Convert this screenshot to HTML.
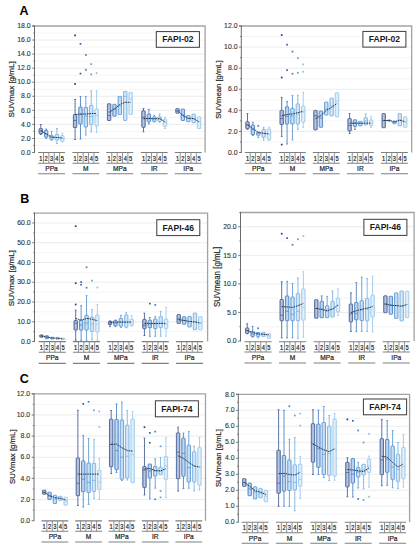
<!DOCTYPE html>
<html><head><meta charset="utf-8"><style>html,body{margin:0;padding:0;background:#fff;}body{width:419px;height:550px;overflow:hidden;font-family:"Liberation Sans",sans-serif;}svg{display:block;}</style></head><body>
<svg width="419" height="550" viewBox="0 0 419 550" font-family='"Liberation Sans", sans-serif'>
<defs><linearGradient id="g0" x1="0" x2="1" y1="0" y2="0"><stop offset="0" stop-color="#93a7cd"/><stop offset="0.5" stop-color="#bac8e2"/><stop offset="1" stop-color="#93a7cd"/></linearGradient><linearGradient id="g1" x1="0" x2="1" y1="0" y2="0"><stop offset="0" stop-color="#9fbfe6"/><stop offset="0.5" stop-color="#c4d8f0"/><stop offset="1" stop-color="#9fbfe6"/></linearGradient><linearGradient id="g2" x1="0" x2="1" y1="0" y2="0"><stop offset="0" stop-color="#afcdef"/><stop offset="0.5" stop-color="#cfe3f6"/><stop offset="1" stop-color="#afcdef"/></linearGradient><linearGradient id="g3" x1="0" x2="1" y1="0" y2="0"><stop offset="0" stop-color="#c0daf3"/><stop offset="0.5" stop-color="#d8e9f8"/><stop offset="1" stop-color="#c0daf3"/></linearGradient><linearGradient id="g4" x1="0" x2="1" y1="0" y2="0"><stop offset="0" stop-color="#d0e6f6"/><stop offset="0.5" stop-color="#e3f0fa"/><stop offset="1" stop-color="#d0e6f6"/></linearGradient></defs>
<rect width="419" height="550" fill="#fff"/>
<line x1="34.5" y1="145.47" x2="205.1" y2="145.47" stroke="#f3f3f3" stroke-width="0.8"/>
<line x1="34.5" y1="138.44" x2="205.1" y2="138.44" stroke="#e7e7e7" stroke-width="0.8"/>
<line x1="34.5" y1="131.42" x2="205.1" y2="131.42" stroke="#f3f3f3" stroke-width="0.8"/>
<line x1="34.5" y1="124.39" x2="205.1" y2="124.39" stroke="#e7e7e7" stroke-width="0.8"/>
<line x1="34.5" y1="117.36" x2="205.1" y2="117.36" stroke="#f3f3f3" stroke-width="0.8"/>
<line x1="34.5" y1="110.33" x2="205.1" y2="110.33" stroke="#e7e7e7" stroke-width="0.8"/>
<line x1="34.5" y1="103.31" x2="205.1" y2="103.31" stroke="#f3f3f3" stroke-width="0.8"/>
<line x1="34.5" y1="96.28" x2="205.1" y2="96.28" stroke="#e7e7e7" stroke-width="0.8"/>
<line x1="34.5" y1="89.25" x2="205.1" y2="89.25" stroke="#f3f3f3" stroke-width="0.8"/>
<line x1="34.5" y1="82.22" x2="205.1" y2="82.22" stroke="#e7e7e7" stroke-width="0.8"/>
<line x1="34.5" y1="75.19" x2="205.1" y2="75.19" stroke="#f3f3f3" stroke-width="0.8"/>
<line x1="34.5" y1="68.17" x2="205.1" y2="68.17" stroke="#e7e7e7" stroke-width="0.8"/>
<line x1="34.5" y1="61.14" x2="205.1" y2="61.14" stroke="#f3f3f3" stroke-width="0.8"/>
<line x1="34.5" y1="54.11" x2="205.1" y2="54.11" stroke="#e7e7e7" stroke-width="0.8"/>
<line x1="34.5" y1="47.08" x2="205.1" y2="47.08" stroke="#f3f3f3" stroke-width="0.8"/>
<line x1="34.5" y1="40.06" x2="205.1" y2="40.06" stroke="#e7e7e7" stroke-width="0.8"/>
<line x1="34.5" y1="33.03" x2="205.1" y2="33.03" stroke="#f3f3f3" stroke-width="0.8"/>
<path d="M32.2 26H205.1V152.5" fill="none" stroke="#a3a3a3" stroke-width="1.3"/>
<line x1="34.5" y1="25.4" x2="34.5" y2="153" stroke="#6a6a6a" stroke-width="1"/>
<path d="M32.2 152.5H34.5M33.3 145.47H34.5M32.2 138.44H34.5M33.3 131.42H34.5M32.2 124.39H34.5M33.3 117.36H34.5M32.2 110.33H34.5M33.3 103.31H34.5M32.2 96.28H34.5M33.3 89.25H34.5M32.2 82.22H34.5M33.3 75.19H34.5M32.2 68.17H34.5M33.3 61.14H34.5M32.2 54.11H34.5M33.3 47.08H34.5M32.2 40.06H34.5M33.3 33.03H34.5M32.2 26H34.5" stroke="#6a6a6a" stroke-width="0.9" fill="none"/>
<g font-size="6.9" fill="#333" stroke="#333" stroke-width="0.12" text-anchor="end"><text x="30.7" y="154.7">0.0</text><text x="30.7" y="140.64">2.0</text><text x="30.7" y="126.59">4.0</text><text x="30.7" y="112.53">6.0</text><text x="30.7" y="98.48">8.0</text><text x="30.7" y="84.42">10.0</text><text x="30.7" y="70.37">12.0</text><text x="30.7" y="56.31">14.0</text><text x="30.7" y="42.26">16.0</text><text x="30.7" y="28.2">18.0</text></g>
<text transform="translate(11.5 89.4) rotate(-90)" font-size="7.9" fill="#2a2a2a" stroke="#2a2a2a" stroke-width="0.2" text-anchor="middle" dy="2.7" textLength="56" lengthAdjust="spacingAndGlyphs">SUVmax [g/mL]</text>
<path d="M38.1 152.5H65M38.1 163.2H65M38.1 173.7H65" stroke="#808080" stroke-width="1.1" fill="none"/>
<path d="M43.48 152.5V163.2M48.86 152.5V163.2M54.24 152.5V163.2M59.62 152.5V163.2" stroke="#868686" stroke-width="0.9" fill="none"/>
<g font-size="7.2" fill="#1e1e1e" stroke="#1e1e1e" stroke-width="0.22" text-anchor="middle" transform="scale(0.8 1)"><text x="50.99" y="160.8">1</text><text x="57.71" y="160.8">2</text><text x="64.44" y="160.8">3</text><text x="71.16" y="160.8">4</text><text x="77.89" y="160.8">5</text></g>
<text x="51.55" y="171" font-size="6.6" fill="#222" stroke="#222" stroke-width="0.2" text-anchor="middle">PPa</text>
<path d="M72.4 152.5H99.3M72.4 163.2H99.3M72.4 173.7H99.3" stroke="#808080" stroke-width="1.1" fill="none"/>
<path d="M77.78 152.5V163.2M83.16 152.5V163.2M88.54 152.5V163.2M93.92 152.5V163.2" stroke="#868686" stroke-width="0.9" fill="none"/>
<g font-size="7.2" fill="#1e1e1e" stroke="#1e1e1e" stroke-width="0.22" text-anchor="middle" transform="scale(0.8 1)"><text x="93.86" y="160.8">1</text><text x="100.59" y="160.8">2</text><text x="107.31" y="160.8">3</text><text x="114.04" y="160.8">4</text><text x="120.76" y="160.8">5</text></g>
<text x="85.85" y="171" font-size="6.6" fill="#222" stroke="#222" stroke-width="0.2" text-anchor="middle">M</text>
<path d="M106.4 152.5H133.3M106.4 163.2H133.3M106.4 173.7H133.3" stroke="#808080" stroke-width="1.1" fill="none"/>
<path d="M111.78 152.5V163.2M117.16 152.5V163.2M122.54 152.5V163.2M127.92 152.5V163.2" stroke="#868686" stroke-width="0.9" fill="none"/>
<g font-size="7.2" fill="#1e1e1e" stroke="#1e1e1e" stroke-width="0.22" text-anchor="middle" transform="scale(0.8 1)"><text x="136.36" y="160.8">1</text><text x="143.09" y="160.8">2</text><text x="149.81" y="160.8">3</text><text x="156.54" y="160.8">4</text><text x="163.26" y="160.8">5</text></g>
<text x="119.85" y="171" font-size="6.6" fill="#222" stroke="#222" stroke-width="0.2" text-anchor="middle">MPa</text>
<path d="M140.8 152.5H167.7M140.8 163.2H167.7M140.8 173.7H167.7" stroke="#808080" stroke-width="1.1" fill="none"/>
<path d="M146.18 152.5V163.2M151.56 152.5V163.2M156.94 152.5V163.2M162.32 152.5V163.2" stroke="#868686" stroke-width="0.9" fill="none"/>
<g font-size="7.2" fill="#1e1e1e" stroke="#1e1e1e" stroke-width="0.22" text-anchor="middle" transform="scale(0.8 1)"><text x="179.36" y="160.8">1</text><text x="186.09" y="160.8">2</text><text x="192.81" y="160.8">3</text><text x="199.54" y="160.8">4</text><text x="206.26" y="160.8">5</text></g>
<text x="154.25" y="171" font-size="6.6" fill="#222" stroke="#222" stroke-width="0.2" text-anchor="middle">IR</text>
<path d="M174.8 152.5H201.7M174.8 163.2H201.7M174.8 173.7H201.7" stroke="#808080" stroke-width="1.1" fill="none"/>
<path d="M180.18 152.5V163.2M185.56 152.5V163.2M190.94 152.5V163.2M196.32 152.5V163.2" stroke="#868686" stroke-width="0.9" fill="none"/>
<g font-size="7.2" fill="#1e1e1e" stroke="#1e1e1e" stroke-width="0.22" text-anchor="middle" transform="scale(0.8 1)"><text x="221.86" y="160.8">1</text><text x="228.59" y="160.8">2</text><text x="235.31" y="160.8">3</text><text x="242.04" y="160.8">4</text><text x="248.76" y="160.8">5</text></g>
<text x="188.25" y="171" font-size="6.6" fill="#222" stroke="#222" stroke-width="0.2" text-anchor="middle">IPa</text>
<path d="M40.79 128.6V124.5M39.89 124.5H41.69" stroke="#4a6396" stroke-width="0.9" fill="none"/>
<path d="M40.79 133.7V134.5M39.89 134.5H41.69" stroke="#4a6396" stroke-width="0.9" fill="none"/>
<rect x="39.09" y="128.6" width="3.4" height="5.1" rx="0.5" fill="url(#g0)" stroke="#4a6396" stroke-width="0.9"/>
<line x1="39.09" y1="131" x2="42.49" y2="131" stroke="#4a6396" stroke-width="0.8"/>
<path d="M46.17 130.3V129.1M45.27 129.1H47.07" stroke="#4f86c6" stroke-width="0.9" fill="none"/>
<path d="M46.17 137.2V138.3M45.27 138.3H47.07" stroke="#4f86c6" stroke-width="0.9" fill="none"/>
<rect x="44.47" y="130.3" width="3.4" height="6.9" rx="0.5" fill="url(#g1)" stroke="#4f86c6" stroke-width="0.9"/>
<line x1="44.47" y1="134" x2="47.87" y2="134" stroke="#4f86c6" stroke-width="0.8"/>
<path d="M51.55 135.6V131.4M50.65 131.4H52.45" stroke="#5e9cd7" stroke-width="0.9" fill="none"/>
<path d="M51.55 139.4V140.2M50.65 140.2H52.45" stroke="#5e9cd7" stroke-width="0.9" fill="none"/>
<rect x="49.85" y="135.6" width="3.4" height="3.8" rx="0.5" fill="url(#g2)" stroke="#5e9cd7" stroke-width="0.9"/>
<line x1="49.85" y1="137.5" x2="53.25" y2="137.5" stroke="#5e9cd7" stroke-width="0.8"/>
<path d="M56.93 134.5V128.6M56.03 128.6H57.83" stroke="#7cb3e2" stroke-width="0.9" fill="none"/>
<path d="M56.93 139.8V143.6M56.03 143.6H57.83" stroke="#7cb3e2" stroke-width="0.9" fill="none"/>
<rect x="55.23" y="134.5" width="3.4" height="5.3" rx="0.5" fill="url(#g3)" stroke="#7cb3e2" stroke-width="0.9"/>
<line x1="55.23" y1="137.5" x2="58.63" y2="137.5" stroke="#7cb3e2" stroke-width="0.8"/>
<path d="M62.31 135.6V133.3M61.41 133.3H63.21" stroke="#9cc9ec" stroke-width="0.9" fill="none"/>
<path d="M62.31 141.4V142.1M61.41 142.1H63.21" stroke="#9cc9ec" stroke-width="0.9" fill="none"/>
<rect x="60.61" y="135.6" width="3.4" height="5.8" rx="0.5" fill="url(#g4)" stroke="#9cc9ec" stroke-width="0.9"/>
<line x1="60.61" y1="138.5" x2="64.01" y2="138.5" stroke="#9cc9ec" stroke-width="0.8"/>
<polyline points="40.79,130.5 46.17,134 51.55,137 56.93,137.5 62.31,138" fill="none" stroke="#202838" stroke-width="0.95" stroke-dasharray="1.6 0.8"/>
<path d="M75.09 114.5V99.5M74.19 99.5H75.99" stroke="#4a6396" stroke-width="0.9" fill="none"/>
<path d="M75.09 127.5V139.5M74.19 139.5H75.99" stroke="#4a6396" stroke-width="0.9" fill="none"/>
<rect x="73.39" y="114.5" width="3.4" height="13" rx="0.5" fill="url(#g0)" stroke="#4a6396" stroke-width="0.9"/>
<line x1="73.39" y1="120.5" x2="76.79" y2="120.5" stroke="#4a6396" stroke-width="0.8"/>
<path d="M80.47 107V96.5M79.57 96.5H81.37" stroke="#4f86c6" stroke-width="0.9" fill="none"/>
<path d="M80.47 124V139M79.57 139H81.37" stroke="#4f86c6" stroke-width="0.9" fill="none"/>
<rect x="78.77" y="107" width="3.4" height="17" rx="0.5" fill="url(#g1)" stroke="#4f86c6" stroke-width="0.9"/>
<line x1="78.77" y1="114.5" x2="82.17" y2="114.5" stroke="#4f86c6" stroke-width="0.8"/>
<path d="M85.85 107.5V96.5M84.95 96.5H86.75" stroke="#5e9cd7" stroke-width="0.9" fill="none"/>
<path d="M85.85 127V135M84.95 135H86.75" stroke="#5e9cd7" stroke-width="0.9" fill="none"/>
<rect x="84.15" y="107.5" width="3.4" height="19.5" rx="0.5" fill="url(#g2)" stroke="#5e9cd7" stroke-width="0.9"/>
<line x1="84.15" y1="116" x2="87.55" y2="116" stroke="#5e9cd7" stroke-width="0.8"/>
<path d="M91.23 105.5V90.8M90.33 90.8H92.13" stroke="#7cb3e2" stroke-width="0.9" fill="none"/>
<path d="M91.23 124.5V132M90.33 132H92.13" stroke="#7cb3e2" stroke-width="0.9" fill="none"/>
<rect x="89.53" y="105.5" width="3.4" height="19" rx="0.5" fill="url(#g3)" stroke="#7cb3e2" stroke-width="0.9"/>
<line x1="89.53" y1="116.5" x2="92.93" y2="116.5" stroke="#7cb3e2" stroke-width="0.8"/>
<path d="M96.61 109V90.8M95.71 90.8H97.51" stroke="#9cc9ec" stroke-width="0.9" fill="none"/>
<path d="M96.61 126V132.5M95.71 132.5H97.51" stroke="#9cc9ec" stroke-width="0.9" fill="none"/>
<rect x="94.91" y="109" width="3.4" height="17" rx="0.5" fill="url(#g4)" stroke="#9cc9ec" stroke-width="0.9"/>
<line x1="94.91" y1="115.5" x2="98.31" y2="115.5" stroke="#9cc9ec" stroke-width="0.8"/>
<polyline points="75.09,114.5 80.47,114 85.85,114 91.23,113.5 96.61,113.5" fill="none" stroke="#202838" stroke-width="0.95" stroke-dasharray="1.6 0.8"/>
<rect x="107.39" y="103.8" width="3.4" height="16.7" rx="0.5" fill="url(#g0)" stroke="#4a6396" stroke-width="0.9"/>
<line x1="107.39" y1="115.5" x2="110.79" y2="115.5" stroke="#4a6396" stroke-width="0.8"/>
<rect x="112.77" y="104.4" width="3.4" height="11.8" rx="0.5" fill="url(#g1)" stroke="#4f86c6" stroke-width="0.9"/>
<line x1="112.77" y1="109" x2="116.17" y2="109" stroke="#4f86c6" stroke-width="0.8"/>
<rect x="118.15" y="96.4" width="3.4" height="18.1" rx="0.5" fill="url(#g2)" stroke="#5e9cd7" stroke-width="0.9"/>
<line x1="118.15" y1="106" x2="121.55" y2="106" stroke="#5e9cd7" stroke-width="0.8"/>
<rect x="123.53" y="91.4" width="3.4" height="29.1" rx="0.5" fill="url(#g3)" stroke="#7cb3e2" stroke-width="0.9"/>
<line x1="123.53" y1="96.4" x2="126.93" y2="96.4" stroke="#7cb3e2" stroke-width="0.8"/>
<rect x="128.91" y="92.3" width="3.4" height="22.2" rx="0.5" fill="url(#g4)" stroke="#9cc9ec" stroke-width="0.9"/>
<line x1="128.91" y1="99" x2="132.31" y2="99" stroke="#9cc9ec" stroke-width="0.8"/>
<polyline points="109.09,112.3 114.47,109 119.85,104.5 125.23,102.3 130.61,102.3" fill="none" stroke="#202838" stroke-width="0.95" stroke-dasharray="1.6 0.8"/>
<path d="M143.49 110.9V108.6M142.59 108.6H144.39" stroke="#4a6396" stroke-width="0.9" fill="none"/>
<path d="M143.49 127.3V131.8M142.59 131.8H144.39" stroke="#4a6396" stroke-width="0.9" fill="none"/>
<rect x="141.79" y="110.9" width="3.4" height="16.4" rx="0.5" fill="url(#g0)" stroke="#4a6396" stroke-width="0.9"/>
<line x1="141.79" y1="117.3" x2="145.19" y2="117.3" stroke="#4a6396" stroke-width="0.8"/>
<path d="M148.87 114.1V109.4M147.97 109.4H149.77" stroke="#4f86c6" stroke-width="0.9" fill="none"/>
<path d="M148.87 121.8V123.9M147.97 123.9H149.77" stroke="#4f86c6" stroke-width="0.9" fill="none"/>
<rect x="147.17" y="114.1" width="3.4" height="7.7" rx="0.5" fill="url(#g1)" stroke="#4f86c6" stroke-width="0.9"/>
<line x1="147.17" y1="118" x2="150.57" y2="118" stroke="#4f86c6" stroke-width="0.8"/>
<path d="M154.25 116.8V115.5M153.35 115.5H155.15" stroke="#5e9cd7" stroke-width="0.9" fill="none"/>
<path d="M154.25 121.4V122M153.35 122H155.15" stroke="#5e9cd7" stroke-width="0.9" fill="none"/>
<rect x="152.55" y="116.8" width="3.4" height="4.6" rx="0.5" fill="url(#g2)" stroke="#5e9cd7" stroke-width="0.9"/>
<line x1="152.55" y1="119" x2="155.95" y2="119" stroke="#5e9cd7" stroke-width="0.8"/>
<path d="M159.63 116.8V114.1M158.73 114.1H160.53" stroke="#7cb3e2" stroke-width="0.9" fill="none"/>
<path d="M159.63 121.4V122.3M158.73 122.3H160.53" stroke="#7cb3e2" stroke-width="0.9" fill="none"/>
<rect x="157.93" y="116.8" width="3.4" height="4.6" rx="0.5" fill="url(#g3)" stroke="#7cb3e2" stroke-width="0.9"/>
<line x1="157.93" y1="119" x2="161.33" y2="119" stroke="#7cb3e2" stroke-width="0.8"/>
<path d="M165.01 119.1V117.3M164.11 117.3H165.91" stroke="#9cc9ec" stroke-width="0.9" fill="none"/>
<path d="M165.01 126.4V128.5M164.11 128.5H165.91" stroke="#9cc9ec" stroke-width="0.9" fill="none"/>
<rect x="163.31" y="119.1" width="3.4" height="7.3" rx="0.5" fill="url(#g4)" stroke="#9cc9ec" stroke-width="0.9"/>
<line x1="163.31" y1="122.5" x2="166.71" y2="122.5" stroke="#9cc9ec" stroke-width="0.8"/>
<polyline points="143.49,118.6 148.87,118.6 154.25,118.6 159.63,118.6 165.01,121.8" fill="none" stroke="#202838" stroke-width="0.95" stroke-dasharray="1.6 0.8"/>
<rect x="175.79" y="108.6" width="3.4" height="4.6" rx="0.5" fill="url(#g0)" stroke="#4a6396" stroke-width="0.9"/>
<line x1="175.79" y1="110.9" x2="179.19" y2="110.9" stroke="#4a6396" stroke-width="0.8"/>
<rect x="181.17" y="109.1" width="3.4" height="11.4" rx="0.5" fill="url(#g1)" stroke="#4f86c6" stroke-width="0.9"/>
<line x1="181.17" y1="115" x2="184.57" y2="115" stroke="#4f86c6" stroke-width="0.8"/>
<rect x="186.55" y="115.5" width="3.4" height="6.3" rx="0.5" fill="url(#g2)" stroke="#5e9cd7" stroke-width="0.9"/>
<line x1="186.55" y1="118.5" x2="189.95" y2="118.5" stroke="#5e9cd7" stroke-width="0.8"/>
<rect x="191.93" y="114.1" width="3.4" height="8.6" rx="0.5" fill="url(#g3)" stroke="#7cb3e2" stroke-width="0.9"/>
<line x1="191.93" y1="118.5" x2="195.33" y2="118.5" stroke="#7cb3e2" stroke-width="0.8"/>
<rect x="197.31" y="116.8" width="3.4" height="11.8" rx="0.5" fill="url(#g4)" stroke="#9cc9ec" stroke-width="0.9"/>
<line x1="197.31" y1="122" x2="200.71" y2="122" stroke="#9cc9ec" stroke-width="0.8"/>
<polyline points="177.49,110.9 182.87,115.5 188.25,118.2 193.63,118.6 199.01,121.8" fill="none" stroke="#202838" stroke-width="0.95" stroke-dasharray="1.6 0.8"/>
<rect x="74.24" y="34.55" width="1.7" height="1.7" fill="#1f3d7a"/>
<rect x="74.24" y="83.05" width="1.7" height="1.7" fill="#1f3d7a"/>
<rect x="79.62" y="42.95" width="1.7" height="1.7" fill="#2b5fb0"/>
<rect x="79.62" y="72.75" width="1.7" height="1.7" fill="#2b5fb0"/>
<rect x="85" y="54.05" width="1.7" height="1.7" fill="#3b7fcc"/>
<rect x="85" y="68.95" width="1.7" height="1.7" fill="#3b7fcc"/>
<rect x="90.38" y="63.25" width="1.7" height="1.7" fill="#5a9fdc"/>
<rect x="90.38" y="73.55" width="1.7" height="1.7" fill="#5a9fdc"/>
<rect x="95.76" y="72.25" width="1.7" height="1.7" fill="#86bfe6"/>
<rect x="156.3" y="31.6" width="43.1" height="15.7" fill="#fff" stroke="#3a3a3a" stroke-width="1"/>
<text x="177.85" y="42.35" font-size="9.4" font-weight="bold" fill="#1a1a1a" text-anchor="middle" textLength="31.4" lengthAdjust="spacingAndGlyphs">FAPI-02</text>
<line x1="241.3" y1="141.96" x2="411.7" y2="141.96" stroke="#f3f3f3" stroke-width="0.8"/>
<line x1="241.3" y1="131.42" x2="411.7" y2="131.42" stroke="#e7e7e7" stroke-width="0.8"/>
<line x1="241.3" y1="120.88" x2="411.7" y2="120.88" stroke="#f3f3f3" stroke-width="0.8"/>
<line x1="241.3" y1="110.33" x2="411.7" y2="110.33" stroke="#e7e7e7" stroke-width="0.8"/>
<line x1="241.3" y1="99.79" x2="411.7" y2="99.79" stroke="#f3f3f3" stroke-width="0.8"/>
<line x1="241.3" y1="89.25" x2="411.7" y2="89.25" stroke="#e7e7e7" stroke-width="0.8"/>
<line x1="241.3" y1="78.71" x2="411.7" y2="78.71" stroke="#f3f3f3" stroke-width="0.8"/>
<line x1="241.3" y1="68.17" x2="411.7" y2="68.17" stroke="#e7e7e7" stroke-width="0.8"/>
<line x1="241.3" y1="57.62" x2="411.7" y2="57.62" stroke="#f3f3f3" stroke-width="0.8"/>
<line x1="241.3" y1="47.08" x2="411.7" y2="47.08" stroke="#e7e7e7" stroke-width="0.8"/>
<line x1="241.3" y1="36.54" x2="411.7" y2="36.54" stroke="#f3f3f3" stroke-width="0.8"/>
<path d="M239 26H411.7V152.5" fill="none" stroke="#a3a3a3" stroke-width="1.3"/>
<line x1="241.3" y1="25.4" x2="241.3" y2="153" stroke="#6a6a6a" stroke-width="1"/>
<path d="M239 152.5H241.3M240.1 141.96H241.3M239 131.42H241.3M240.1 120.88H241.3M239 110.33H241.3M240.1 99.79H241.3M239 89.25H241.3M240.1 78.71H241.3M239 68.17H241.3M240.1 57.62H241.3M239 47.08H241.3M240.1 36.54H241.3M239 26H241.3" stroke="#6a6a6a" stroke-width="0.9" fill="none"/>
<g font-size="6.9" fill="#333" stroke="#333" stroke-width="0.12" text-anchor="end"><text x="237.5" y="154.7">0.0</text><text x="237.5" y="133.62">2.0</text><text x="237.5" y="112.53">4.0</text><text x="237.5" y="91.45">6.0</text><text x="237.5" y="70.37">8.0</text><text x="237.5" y="49.28">10.0</text><text x="237.5" y="28.2">12.0</text></g>
<text transform="translate(217.9 89.5) rotate(-90)" font-size="7.9" fill="#2a2a2a" stroke="#2a2a2a" stroke-width="0.2" text-anchor="middle" dy="2.7" textLength="58.5" lengthAdjust="spacingAndGlyphs">SUVmean [g/mL]</text>
<path d="M244.8 152.5H271.7M244.8 163.2H271.7M244.8 173.8H271.7" stroke="#808080" stroke-width="1.1" fill="none"/>
<path d="M250.18 152.5V163.2M255.56 152.5V163.2M260.94 152.5V163.2M266.32 152.5V163.2" stroke="#868686" stroke-width="0.9" fill="none"/>
<g font-size="7.2" fill="#1e1e1e" stroke="#1e1e1e" stroke-width="0.22" text-anchor="middle" transform="scale(0.8 1)"><text x="309.36" y="160.8">1</text><text x="316.09" y="160.8">2</text><text x="322.81" y="160.8">3</text><text x="329.54" y="160.8">4</text><text x="336.26" y="160.8">5</text></g>
<text x="258.25" y="171" font-size="6.6" fill="#222" stroke="#222" stroke-width="0.2" text-anchor="middle">PPa</text>
<path d="M279 152.5H305.9M279 163.2H305.9M279 173.8H305.9" stroke="#808080" stroke-width="1.1" fill="none"/>
<path d="M284.38 152.5V163.2M289.76 152.5V163.2M295.14 152.5V163.2M300.52 152.5V163.2" stroke="#868686" stroke-width="0.9" fill="none"/>
<g font-size="7.2" fill="#1e1e1e" stroke="#1e1e1e" stroke-width="0.22" text-anchor="middle" transform="scale(0.8 1)"><text x="352.11" y="160.8">1</text><text x="358.84" y="160.8">2</text><text x="365.56" y="160.8">3</text><text x="372.29" y="160.8">4</text><text x="379.01" y="160.8">5</text></g>
<text x="292.45" y="171" font-size="6.6" fill="#222" stroke="#222" stroke-width="0.2" text-anchor="middle">M</text>
<path d="M312.8 152.5H339.7M312.8 163.2H339.7M312.8 173.8H339.7" stroke="#808080" stroke-width="1.1" fill="none"/>
<path d="M318.18 152.5V163.2M323.56 152.5V163.2M328.94 152.5V163.2M334.32 152.5V163.2" stroke="#868686" stroke-width="0.9" fill="none"/>
<g font-size="7.2" fill="#1e1e1e" stroke="#1e1e1e" stroke-width="0.22" text-anchor="middle" transform="scale(0.8 1)"><text x="394.36" y="160.8">1</text><text x="401.09" y="160.8">2</text><text x="407.81" y="160.8">3</text><text x="414.54" y="160.8">4</text><text x="421.26" y="160.8">5</text></g>
<text x="326.25" y="171" font-size="6.6" fill="#222" stroke="#222" stroke-width="0.2" text-anchor="middle">MPa</text>
<path d="M346.9 152.5H373.8M346.9 163.2H373.8M346.9 173.8H373.8" stroke="#808080" stroke-width="1.1" fill="none"/>
<path d="M352.28 152.5V163.2M357.66 152.5V163.2M363.04 152.5V163.2M368.42 152.5V163.2" stroke="#868686" stroke-width="0.9" fill="none"/>
<g font-size="7.2" fill="#1e1e1e" stroke="#1e1e1e" stroke-width="0.22" text-anchor="middle" transform="scale(0.8 1)"><text x="436.99" y="160.8">1</text><text x="443.71" y="160.8">2</text><text x="450.44" y="160.8">3</text><text x="457.16" y="160.8">4</text><text x="463.89" y="160.8">5</text></g>
<text x="360.35" y="171" font-size="6.6" fill="#222" stroke="#222" stroke-width="0.2" text-anchor="middle">IR</text>
<path d="M381 152.5H407.9M381 163.2H407.9M381 173.8H407.9" stroke="#808080" stroke-width="1.1" fill="none"/>
<path d="M386.38 152.5V163.2M391.76 152.5V163.2M397.14 152.5V163.2M402.52 152.5V163.2" stroke="#868686" stroke-width="0.9" fill="none"/>
<g font-size="7.2" fill="#1e1e1e" stroke="#1e1e1e" stroke-width="0.22" text-anchor="middle" transform="scale(0.8 1)"><text x="479.61" y="160.8">1</text><text x="486.34" y="160.8">2</text><text x="493.06" y="160.8">3</text><text x="499.79" y="160.8">4</text><text x="506.51" y="160.8">5</text></g>
<text x="394.45" y="171" font-size="6.6" fill="#222" stroke="#222" stroke-width="0.2" text-anchor="middle">IPa</text>
<path d="M247.49 121.8V113.6M246.59 113.6H248.39" stroke="#4a6396" stroke-width="0.9" fill="none"/>
<path d="M247.49 128.7V129.2M246.59 129.2H248.39" stroke="#4a6396" stroke-width="0.9" fill="none"/>
<rect x="245.79" y="121.8" width="3.4" height="6.9" rx="0.5" fill="url(#g0)" stroke="#4a6396" stroke-width="0.9"/>
<line x1="245.79" y1="125" x2="249.19" y2="125" stroke="#4a6396" stroke-width="0.8"/>
<path d="M252.87 125V122.3M251.97 122.3H253.77" stroke="#4f86c6" stroke-width="0.9" fill="none"/>
<path d="M252.87 134.5V135.4M251.97 135.4H253.77" stroke="#4f86c6" stroke-width="0.9" fill="none"/>
<rect x="251.17" y="125" width="3.4" height="9.5" rx="0.5" fill="url(#g1)" stroke="#4f86c6" stroke-width="0.9"/>
<line x1="251.17" y1="129.5" x2="254.57" y2="129.5" stroke="#4f86c6" stroke-width="0.8"/>
<path d="M258.25 135.3V137.6M257.35 137.6H259.15" stroke="#5e9cd7" stroke-width="0.9" fill="none"/>
<rect x="256.55" y="132" width="3.4" height="3.3" rx="0.5" fill="url(#g2)" stroke="#5e9cd7" stroke-width="0.9"/>
<line x1="256.55" y1="133.5" x2="259.95" y2="133.5" stroke="#5e9cd7" stroke-width="0.8"/>
<path d="M263.63 129.5V127.3M262.73 127.3H264.53" stroke="#7cb3e2" stroke-width="0.9" fill="none"/>
<path d="M263.63 137.3V140.2M262.73 140.2H264.53" stroke="#7cb3e2" stroke-width="0.9" fill="none"/>
<rect x="261.93" y="129.5" width="3.4" height="7.8" rx="0.5" fill="url(#g3)" stroke="#7cb3e2" stroke-width="0.9"/>
<line x1="261.93" y1="133.5" x2="265.33" y2="133.5" stroke="#7cb3e2" stroke-width="0.8"/>
<path d="M269.01 129.1V127.1M268.11 127.1H269.91" stroke="#9cc9ec" stroke-width="0.9" fill="none"/>
<path d="M269.01 139.8V140.3M268.11 140.3H269.91" stroke="#9cc9ec" stroke-width="0.9" fill="none"/>
<rect x="267.31" y="129.1" width="3.4" height="10.7" rx="0.5" fill="url(#g4)" stroke="#9cc9ec" stroke-width="0.9"/>
<line x1="267.31" y1="134" x2="270.71" y2="134" stroke="#9cc9ec" stroke-width="0.8"/>
<polyline points="247.49,124.6 252.87,128.7 258.25,132.4 263.63,133.2 269.01,134" fill="none" stroke="#202838" stroke-width="0.95" stroke-dasharray="1.6 0.8"/>
<path d="M281.69 110.4V97.4M280.79 97.4H282.59" stroke="#4a6396" stroke-width="0.9" fill="none"/>
<path d="M281.69 124.6V136.4M280.79 136.4H282.59" stroke="#4a6396" stroke-width="0.9" fill="none"/>
<rect x="279.99" y="110.4" width="3.4" height="14.2" rx="0.5" fill="url(#g0)" stroke="#4a6396" stroke-width="0.9"/>
<line x1="279.99" y1="118.6" x2="283.39" y2="118.6" stroke="#4a6396" stroke-width="0.8"/>
<path d="M287.07 106.8V101.5M286.17 101.5H287.97" stroke="#4f86c6" stroke-width="0.9" fill="none"/>
<path d="M287.07 124V144M286.17 144H287.97" stroke="#4f86c6" stroke-width="0.9" fill="none"/>
<rect x="285.37" y="106.8" width="3.4" height="17.2" rx="0.5" fill="url(#g1)" stroke="#4f86c6" stroke-width="0.9"/>
<line x1="285.37" y1="116.3" x2="288.77" y2="116.3" stroke="#4f86c6" stroke-width="0.8"/>
<path d="M292.45 108.4V95.4M291.55 95.4H293.35" stroke="#5e9cd7" stroke-width="0.9" fill="none"/>
<path d="M292.45 124V139.9M291.55 139.9H293.35" stroke="#5e9cd7" stroke-width="0.9" fill="none"/>
<rect x="290.75" y="108.4" width="3.4" height="15.6" rx="0.5" fill="url(#g2)" stroke="#5e9cd7" stroke-width="0.9"/>
<line x1="290.75" y1="116" x2="294.15" y2="116" stroke="#5e9cd7" stroke-width="0.8"/>
<path d="M297.83 103.9V95.4M296.93 95.4H298.73" stroke="#7cb3e2" stroke-width="0.9" fill="none"/>
<path d="M297.83 124V129.3M296.93 129.3H298.73" stroke="#7cb3e2" stroke-width="0.9" fill="none"/>
<rect x="296.13" y="103.9" width="3.4" height="20.1" rx="0.5" fill="url(#g3)" stroke="#7cb3e2" stroke-width="0.9"/>
<line x1="296.13" y1="114" x2="299.53" y2="114" stroke="#7cb3e2" stroke-width="0.8"/>
<path d="M303.21 106V92.3M302.31 92.3H304.11" stroke="#9cc9ec" stroke-width="0.9" fill="none"/>
<path d="M303.21 122.2V127.3M302.31 127.3H304.11" stroke="#9cc9ec" stroke-width="0.9" fill="none"/>
<rect x="301.51" y="106" width="3.4" height="16.2" rx="0.5" fill="url(#g4)" stroke="#9cc9ec" stroke-width="0.9"/>
<line x1="301.51" y1="112" x2="304.91" y2="112" stroke="#9cc9ec" stroke-width="0.8"/>
<polyline points="281.69,115.9 287.07,114.5 292.45,113.9 297.83,112.7 303.21,111.2" fill="none" stroke="#202838" stroke-width="0.95" stroke-dasharray="1.6 0.8"/>
<rect x="313.79" y="110.4" width="3.4" height="19.5" rx="0.5" fill="url(#g0)" stroke="#4a6396" stroke-width="0.9"/>
<line x1="313.79" y1="115.7" x2="317.19" y2="115.7" stroke="#4a6396" stroke-width="0.8"/>
<rect x="319.17" y="111" width="3.4" height="16.3" rx="0.5" fill="url(#g1)" stroke="#4f86c6" stroke-width="0.9"/>
<line x1="319.17" y1="118" x2="322.57" y2="118" stroke="#4f86c6" stroke-width="0.8"/>
<rect x="324.55" y="102.1" width="3.4" height="13" rx="0.5" fill="url(#g2)" stroke="#5e9cd7" stroke-width="0.9"/>
<line x1="324.55" y1="109" x2="327.95" y2="109" stroke="#5e9cd7" stroke-width="0.8"/>
<rect x="329.93" y="98.2" width="3.4" height="17.7" rx="0.5" fill="url(#g3)" stroke="#7cb3e2" stroke-width="0.9"/>
<line x1="329.93" y1="106" x2="333.33" y2="106" stroke="#7cb3e2" stroke-width="0.8"/>
<rect x="335.31" y="92.7" width="3.4" height="24.2" rx="0.5" fill="url(#g4)" stroke="#9cc9ec" stroke-width="0.9"/>
<line x1="335.31" y1="101" x2="338.71" y2="101" stroke="#9cc9ec" stroke-width="0.8"/>
<polyline points="315.49,118.6 320.87,115.5 326.25,110.4 331.63,107.4 337.01,103.3" fill="none" stroke="#202838" stroke-width="0.95" stroke-dasharray="1.6 0.8"/>
<path d="M349.59 118.6V113.6M348.69 113.6H350.49" stroke="#4a6396" stroke-width="0.9" fill="none"/>
<path d="M349.59 130.9V133.5M348.69 133.5H350.49" stroke="#4a6396" stroke-width="0.9" fill="none"/>
<rect x="347.89" y="118.6" width="3.4" height="12.3" rx="0.5" fill="url(#g0)" stroke="#4a6396" stroke-width="0.9"/>
<line x1="347.89" y1="125.5" x2="351.29" y2="125.5" stroke="#4a6396" stroke-width="0.8"/>
<path d="M354.97 126.4V129.5M354.07 129.5H355.87" stroke="#4f86c6" stroke-width="0.9" fill="none"/>
<rect x="353.27" y="119.8" width="3.4" height="6.6" rx="0.5" fill="url(#g1)" stroke="#4f86c6" stroke-width="0.9"/>
<line x1="353.27" y1="123" x2="356.67" y2="123" stroke="#4f86c6" stroke-width="0.8"/>
<rect x="358.65" y="121.4" width="3.4" height="4.5" rx="0.5" fill="url(#g2)" stroke="#5e9cd7" stroke-width="0.9"/>
<line x1="358.65" y1="123.5" x2="362.05" y2="123.5" stroke="#5e9cd7" stroke-width="0.8"/>
<path d="M365.73 117.7V114.1M364.83 114.1H366.63" stroke="#7cb3e2" stroke-width="0.9" fill="none"/>
<rect x="364.03" y="117.7" width="3.4" height="7.3" rx="0.5" fill="url(#g3)" stroke="#7cb3e2" stroke-width="0.9"/>
<line x1="364.03" y1="121" x2="367.43" y2="121" stroke="#7cb3e2" stroke-width="0.8"/>
<path d="M371.11 120V116.4M370.21 116.4H372.01" stroke="#9cc9ec" stroke-width="0.9" fill="none"/>
<path d="M371.11 125.5V127.3M370.21 127.3H372.01" stroke="#9cc9ec" stroke-width="0.9" fill="none"/>
<rect x="369.41" y="120" width="3.4" height="5.5" rx="0.5" fill="url(#g4)" stroke="#9cc9ec" stroke-width="0.9"/>
<line x1="369.41" y1="123" x2="372.81" y2="123" stroke="#9cc9ec" stroke-width="0.8"/>
<polyline points="349.59,123.2 354.97,123.2 360.35,123.2 365.73,123.2 371.11,123.2" fill="none" stroke="#202838" stroke-width="0.95" stroke-dasharray="1.6 0.8"/>
<rect x="381.99" y="113.6" width="3.4" height="14.1" rx="0.5" fill="url(#g0)" stroke="#4a6396" stroke-width="0.9"/>
<line x1="381.99" y1="120.5" x2="385.39" y2="120.5" stroke="#4a6396" stroke-width="0.8"/>
<rect x="387.37" y="120" width="3.4" height="1" rx="0.5" fill="url(#g1)" stroke="#4f86c6" stroke-width="0.9"/>
<line x1="387.37" y1="120.5" x2="390.77" y2="120.5" stroke="#4f86c6" stroke-width="0.8"/>
<rect x="392.75" y="121.1" width="3.4" height="2.7" rx="0.5" fill="url(#g2)" stroke="#5e9cd7" stroke-width="0.9"/>
<line x1="392.75" y1="122.5" x2="396.15" y2="122.5" stroke="#5e9cd7" stroke-width="0.8"/>
<rect x="398.13" y="113.6" width="3.4" height="12.3" rx="0.5" fill="url(#g3)" stroke="#7cb3e2" stroke-width="0.9"/>
<line x1="398.13" y1="120" x2="401.53" y2="120" stroke="#7cb3e2" stroke-width="0.8"/>
<rect x="403.51" y="116.8" width="3.4" height="10.5" rx="0.5" fill="url(#g4)" stroke="#9cc9ec" stroke-width="0.9"/>
<line x1="403.51" y1="122" x2="406.91" y2="122" stroke="#9cc9ec" stroke-width="0.8"/>
<polyline points="383.69,120.5 389.07,120.5 394.45,121.8 399.83,120.2 405.21,121.8" fill="none" stroke="#202838" stroke-width="0.95" stroke-dasharray="1.6 0.8"/>
<rect x="257.4" y="125.05" width="1.7" height="1.7" fill="#3b7fcc"/>
<rect x="280.84" y="34.25" width="1.7" height="1.7" fill="#1f3d7a"/>
<rect x="280.84" y="76.65" width="1.7" height="1.7" fill="#1f3d7a"/>
<rect x="280.84" y="143.75" width="1.7" height="1.7" fill="#1f3d7a"/>
<rect x="286.22" y="43.85" width="1.7" height="1.7" fill="#2b5fb0"/>
<rect x="286.22" y="69.35" width="1.7" height="1.7" fill="#2b5fb0"/>
<rect x="291.6" y="50.75" width="1.7" height="1.7" fill="#3b7fcc"/>
<rect x="291.6" y="72.85" width="1.7" height="1.7" fill="#3b7fcc"/>
<rect x="296.98" y="57.35" width="1.7" height="1.7" fill="#5a9fdc"/>
<rect x="296.98" y="71.95" width="1.7" height="1.7" fill="#5a9fdc"/>
<rect x="302.36" y="63.55" width="1.7" height="1.7" fill="#86bfe6"/>
<rect x="302.36" y="70.95" width="1.7" height="1.7" fill="#86bfe6"/>
<rect x="362.9" y="31.4" width="43" height="15.7" fill="#fff" stroke="#3a3a3a" stroke-width="1"/>
<text x="384.4" y="42.15" font-size="9.4" font-weight="bold" fill="#1a1a1a" text-anchor="middle" textLength="31.4" lengthAdjust="spacingAndGlyphs">FAPI-02</text>
<line x1="34.5" y1="331.62" x2="207.6" y2="331.62" stroke="#f3f3f3" stroke-width="0.8"/>
<line x1="34.5" y1="321.75" x2="207.6" y2="321.75" stroke="#e7e7e7" stroke-width="0.8"/>
<line x1="34.5" y1="311.87" x2="207.6" y2="311.87" stroke="#f3f3f3" stroke-width="0.8"/>
<line x1="34.5" y1="301.99" x2="207.6" y2="301.99" stroke="#e7e7e7" stroke-width="0.8"/>
<line x1="34.5" y1="292.12" x2="207.6" y2="292.12" stroke="#f3f3f3" stroke-width="0.8"/>
<line x1="34.5" y1="282.24" x2="207.6" y2="282.24" stroke="#e7e7e7" stroke-width="0.8"/>
<line x1="34.5" y1="272.36" x2="207.6" y2="272.36" stroke="#f3f3f3" stroke-width="0.8"/>
<line x1="34.5" y1="262.48" x2="207.6" y2="262.48" stroke="#e7e7e7" stroke-width="0.8"/>
<line x1="34.5" y1="252.61" x2="207.6" y2="252.61" stroke="#f3f3f3" stroke-width="0.8"/>
<line x1="34.5" y1="242.73" x2="207.6" y2="242.73" stroke="#e7e7e7" stroke-width="0.8"/>
<line x1="34.5" y1="232.85" x2="207.6" y2="232.85" stroke="#f3f3f3" stroke-width="0.8"/>
<line x1="34.5" y1="222.98" x2="207.6" y2="222.98" stroke="#e7e7e7" stroke-width="0.8"/>
<path d="M33.9 213.1H207.6V341.5" fill="none" stroke="#a3a3a3" stroke-width="1.3"/>
<line x1="34.5" y1="212.5" x2="34.5" y2="342" stroke="#6a6a6a" stroke-width="1"/>
<path d="M32.2 341.5H34.5M33.3 331.62H34.5M32.2 321.75H34.5M33.3 311.87H34.5M32.2 301.99H34.5M33.3 292.12H34.5M32.2 282.24H34.5M33.3 272.36H34.5M32.2 262.48H34.5M33.3 252.61H34.5M32.2 242.73H34.5M33.3 232.85H34.5M32.2 222.98H34.5M33.3 213.1H34.5" stroke="#6a6a6a" stroke-width="0.9" fill="none"/>
<g font-size="6.9" fill="#333" stroke="#333" stroke-width="0.12" text-anchor="end"><text x="30.7" y="343.7">0.0</text><text x="30.7" y="323.95">10.0</text><text x="30.7" y="304.19">20.0</text><text x="30.7" y="284.44">30.0</text><text x="30.7" y="264.68">40.0</text><text x="30.7" y="244.93">50.0</text><text x="30.7" y="225.18">60.0</text></g>
<text transform="translate(11.6 278.2) rotate(-90)" font-size="7.9" fill="#2a2a2a" stroke="#2a2a2a" stroke-width="0.2" text-anchor="middle" dy="2.7" textLength="56" lengthAdjust="spacingAndGlyphs">SUVmax [g/mL]</text>
<path d="M38.7 341.6H65.8M38.7 352.3H65.8M38.7 363.4H65.8" stroke="#808080" stroke-width="1.1" fill="none"/>
<path d="M44.12 341.6V352.3M49.54 341.6V352.3M54.96 341.6V352.3M60.38 341.6V352.3" stroke="#868686" stroke-width="0.9" fill="none"/>
<g font-size="7.2" fill="#1e1e1e" stroke="#1e1e1e" stroke-width="0.22" text-anchor="middle" transform="scale(0.8 1)"><text x="51.76" y="349.9">1</text><text x="58.54" y="349.9">2</text><text x="65.31" y="349.9">3</text><text x="72.09" y="349.9">4</text><text x="78.86" y="349.9">5</text></g>
<text x="52.25" y="360.3" font-size="6.6" fill="#222" stroke="#222" stroke-width="0.2" text-anchor="middle">PPa</text>
<path d="M73 341.6H100.1M73 352.3H100.1M73 363.4H100.1" stroke="#808080" stroke-width="1.1" fill="none"/>
<path d="M78.42 341.6V352.3M83.84 341.6V352.3M89.26 341.6V352.3M94.68 341.6V352.3" stroke="#868686" stroke-width="0.9" fill="none"/>
<g font-size="7.2" fill="#1e1e1e" stroke="#1e1e1e" stroke-width="0.22" text-anchor="middle" transform="scale(0.8 1)"><text x="94.64" y="349.9">1</text><text x="101.41" y="349.9">2</text><text x="108.19" y="349.9">3</text><text x="114.96" y="349.9">4</text><text x="121.74" y="349.9">5</text></g>
<text x="86.55" y="360.3" font-size="6.6" fill="#222" stroke="#222" stroke-width="0.2" text-anchor="middle">M</text>
<path d="M107.3 341.6H134.4M107.3 352.3H134.4M107.3 363.4H134.4" stroke="#808080" stroke-width="1.1" fill="none"/>
<path d="M112.72 341.6V352.3M118.14 341.6V352.3M123.56 341.6V352.3M128.98 341.6V352.3" stroke="#868686" stroke-width="0.9" fill="none"/>
<g font-size="7.2" fill="#1e1e1e" stroke="#1e1e1e" stroke-width="0.22" text-anchor="middle" transform="scale(0.8 1)"><text x="137.51" y="349.9">1</text><text x="144.29" y="349.9">2</text><text x="151.06" y="349.9">3</text><text x="157.84" y="349.9">4</text><text x="164.61" y="349.9">5</text></g>
<text x="120.85" y="360.3" font-size="6.6" fill="#222" stroke="#222" stroke-width="0.2" text-anchor="middle">MPa</text>
<path d="M141.7 341.6H168.8M141.7 352.3H168.8M141.7 363.4H168.8" stroke="#808080" stroke-width="1.1" fill="none"/>
<path d="M147.12 341.6V352.3M152.54 341.6V352.3M157.96 341.6V352.3M163.38 341.6V352.3" stroke="#868686" stroke-width="0.9" fill="none"/>
<g font-size="7.2" fill="#1e1e1e" stroke="#1e1e1e" stroke-width="0.22" text-anchor="middle" transform="scale(0.8 1)"><text x="180.51" y="349.9">1</text><text x="187.29" y="349.9">2</text><text x="194.06" y="349.9">3</text><text x="200.84" y="349.9">4</text><text x="207.61" y="349.9">5</text></g>
<text x="155.25" y="360.3" font-size="6.6" fill="#222" stroke="#222" stroke-width="0.2" text-anchor="middle">IR</text>
<path d="M176 341.6H203.1M176 352.3H203.1M176 363.4H203.1" stroke="#808080" stroke-width="1.1" fill="none"/>
<path d="M181.42 341.6V352.3M186.84 341.6V352.3M192.26 341.6V352.3M197.68 341.6V352.3" stroke="#868686" stroke-width="0.9" fill="none"/>
<g font-size="7.2" fill="#1e1e1e" stroke="#1e1e1e" stroke-width="0.22" text-anchor="middle" transform="scale(0.8 1)"><text x="223.39" y="349.9">1</text><text x="230.16" y="349.9">2</text><text x="236.94" y="349.9">3</text><text x="243.71" y="349.9">4</text><text x="250.49" y="349.9">5</text></g>
<text x="189.55" y="360.3" font-size="6.6" fill="#222" stroke="#222" stroke-width="0.2" text-anchor="middle">IPa</text>
<rect x="39.71" y="334.9" width="3.4" height="2.3" rx="0.5" fill="url(#g0)" stroke="#4a6396" stroke-width="0.9"/>
<line x1="39.71" y1="336" x2="43.11" y2="336" stroke="#4a6396" stroke-width="0.8"/>
<rect x="45.13" y="335.7" width="3.4" height="3" rx="0.5" fill="url(#g1)" stroke="#4f86c6" stroke-width="0.9"/>
<line x1="45.13" y1="337.2" x2="48.53" y2="337.2" stroke="#4f86c6" stroke-width="0.8"/>
<rect x="50.55" y="337.2" width="3.4" height="1.9" rx="0.5" fill="url(#g2)" stroke="#5e9cd7" stroke-width="0.9"/>
<line x1="50.55" y1="338.2" x2="53.95" y2="338.2" stroke="#5e9cd7" stroke-width="0.8"/>
<rect x="55.97" y="337.4" width="3.4" height="1.9" rx="0.5" fill="url(#g3)" stroke="#7cb3e2" stroke-width="0.9"/>
<line x1="55.97" y1="338.4" x2="59.37" y2="338.4" stroke="#7cb3e2" stroke-width="0.8"/>
<rect x="61.39" y="338" width="3.4" height="1.7" rx="0.5" fill="url(#g4)" stroke="#9cc9ec" stroke-width="0.9"/>
<line x1="61.39" y1="338.9" x2="64.79" y2="338.9" stroke="#9cc9ec" stroke-width="0.8"/>
<polyline points="41.41,336 46.83,337 52.25,338 57.67,338.2 63.09,338.8" fill="none" stroke="#202838" stroke-width="0.95" stroke-dasharray="1.6 0.8"/>
<path d="M75.71 320.5V310.2M74.81 310.2H76.61" stroke="#4a6396" stroke-width="0.9" fill="none"/>
<path d="M75.71 330V340.3M74.81 340.3H76.61" stroke="#4a6396" stroke-width="0.9" fill="none"/>
<rect x="74.01" y="320.5" width="3.4" height="9.5" rx="0.5" fill="url(#g0)" stroke="#4a6396" stroke-width="0.9"/>
<line x1="74.01" y1="323.2" x2="77.41" y2="323.2" stroke="#4a6396" stroke-width="0.8"/>
<path d="M81.13 320.2V305.7M80.23 305.7H82.03" stroke="#4f86c6" stroke-width="0.9" fill="none"/>
<path d="M81.13 330V340.3M80.23 340.3H82.03" stroke="#4f86c6" stroke-width="0.9" fill="none"/>
<rect x="79.43" y="320.2" width="3.4" height="9.8" rx="0.5" fill="url(#g1)" stroke="#4f86c6" stroke-width="0.9"/>
<line x1="79.43" y1="325" x2="82.83" y2="325" stroke="#4f86c6" stroke-width="0.8"/>
<path d="M86.55 315.3V295.6M85.65 295.6H87.45" stroke="#5e9cd7" stroke-width="0.9" fill="none"/>
<path d="M86.55 330V340.3M85.65 340.3H87.45" stroke="#5e9cd7" stroke-width="0.9" fill="none"/>
<rect x="84.85" y="315.3" width="3.4" height="14.7" rx="0.5" fill="url(#g2)" stroke="#5e9cd7" stroke-width="0.9"/>
<line x1="84.85" y1="323" x2="88.25" y2="323" stroke="#5e9cd7" stroke-width="0.8"/>
<path d="M91.97 317.1V309.6M91.07 309.6H92.87" stroke="#7cb3e2" stroke-width="0.9" fill="none"/>
<path d="M91.97 331.4V339.8M91.07 339.8H92.87" stroke="#7cb3e2" stroke-width="0.9" fill="none"/>
<rect x="90.27" y="317.1" width="3.4" height="14.3" rx="0.5" fill="url(#g3)" stroke="#7cb3e2" stroke-width="0.9"/>
<line x1="90.27" y1="324" x2="93.67" y2="324" stroke="#7cb3e2" stroke-width="0.8"/>
<path d="M97.39 315V304.4M96.49 304.4H98.29" stroke="#9cc9ec" stroke-width="0.9" fill="none"/>
<path d="M97.39 332.1V340.3M96.49 340.3H98.29" stroke="#9cc9ec" stroke-width="0.9" fill="none"/>
<rect x="95.69" y="315" width="3.4" height="17.1" rx="0.5" fill="url(#g4)" stroke="#9cc9ec" stroke-width="0.9"/>
<line x1="95.69" y1="324" x2="99.09" y2="324" stroke="#9cc9ec" stroke-width="0.8"/>
<polyline points="75.71,318.4 81.13,320.2 86.55,318.4 91.97,319.1 97.39,320.8" fill="none" stroke="#202838" stroke-width="0.95" stroke-dasharray="1.6 0.8"/>
<path d="M110.01 321.4V320.9M109.11 320.9H110.91" stroke="#4a6396" stroke-width="0.9" fill="none"/>
<path d="M110.01 324.5V326.6M109.11 326.6H110.91" stroke="#4a6396" stroke-width="0.9" fill="none"/>
<rect x="108.31" y="321.4" width="3.4" height="3.1" rx="0.5" fill="url(#g0)" stroke="#4a6396" stroke-width="0.9"/>
<line x1="108.31" y1="323" x2="111.71" y2="323" stroke="#4a6396" stroke-width="0.8"/>
<path d="M115.43 320.6V320M114.53 320H116.33" stroke="#4f86c6" stroke-width="0.9" fill="none"/>
<path d="M115.43 325.8V326.6M114.53 326.6H116.33" stroke="#4f86c6" stroke-width="0.9" fill="none"/>
<rect x="113.73" y="320.6" width="3.4" height="5.2" rx="0.5" fill="url(#g1)" stroke="#4f86c6" stroke-width="0.9"/>
<line x1="113.73" y1="323" x2="117.13" y2="323" stroke="#4f86c6" stroke-width="0.8"/>
<path d="M120.85 318.4V315.4M119.95 315.4H121.75" stroke="#5e9cd7" stroke-width="0.9" fill="none"/>
<path d="M120.85 326.2V327.4M119.95 327.4H121.75" stroke="#5e9cd7" stroke-width="0.9" fill="none"/>
<rect x="119.15" y="318.4" width="3.4" height="7.8" rx="0.5" fill="url(#g2)" stroke="#5e9cd7" stroke-width="0.9"/>
<line x1="119.15" y1="322" x2="122.55" y2="322" stroke="#5e9cd7" stroke-width="0.8"/>
<path d="M126.27 315.1V312.7M125.37 312.7H127.17" stroke="#7cb3e2" stroke-width="0.9" fill="none"/>
<path d="M126.27 327V327.8M125.37 327.8H127.17" stroke="#7cb3e2" stroke-width="0.9" fill="none"/>
<rect x="124.57" y="315.1" width="3.4" height="11.9" rx="0.5" fill="url(#g3)" stroke="#7cb3e2" stroke-width="0.9"/>
<line x1="124.57" y1="322" x2="127.97" y2="322" stroke="#7cb3e2" stroke-width="0.8"/>
<path d="M131.69 319.2V315.5M130.79 315.5H132.59" stroke="#9cc9ec" stroke-width="0.9" fill="none"/>
<path d="M131.69 325.4V326.2M130.79 326.2H132.59" stroke="#9cc9ec" stroke-width="0.9" fill="none"/>
<rect x="129.99" y="319.2" width="3.4" height="6.2" rx="0.5" fill="url(#g4)" stroke="#9cc9ec" stroke-width="0.9"/>
<line x1="129.99" y1="322" x2="133.39" y2="322" stroke="#9cc9ec" stroke-width="0.8"/>
<polyline points="110.01,322.1 115.43,322.1 120.85,322.1 126.27,322.1 131.69,322.1" fill="none" stroke="#202838" stroke-width="0.95" stroke-dasharray="1.6 0.8"/>
<path d="M144.41 319.4V313.2M143.51 313.2H145.31" stroke="#4a6396" stroke-width="0.9" fill="none"/>
<path d="M144.41 328.7V335.5M143.51 335.5H145.31" stroke="#4a6396" stroke-width="0.9" fill="none"/>
<rect x="142.71" y="319.4" width="3.4" height="9.3" rx="0.5" fill="url(#g0)" stroke="#4a6396" stroke-width="0.9"/>
<line x1="142.71" y1="325.4" x2="146.11" y2="325.4" stroke="#4a6396" stroke-width="0.8"/>
<path d="M149.83 320.2V317.5M148.93 317.5H150.73" stroke="#4f86c6" stroke-width="0.9" fill="none"/>
<path d="M149.83 327.6V336.3M148.93 336.3H150.73" stroke="#4f86c6" stroke-width="0.9" fill="none"/>
<rect x="148.13" y="320.2" width="3.4" height="7.4" rx="0.5" fill="url(#g1)" stroke="#4f86c6" stroke-width="0.9"/>
<line x1="148.13" y1="324" x2="151.53" y2="324" stroke="#4f86c6" stroke-width="0.8"/>
<path d="M155.25 319.1V316.7M154.35 316.7H156.15" stroke="#5e9cd7" stroke-width="0.9" fill="none"/>
<path d="M155.25 328.5V336.3M154.35 336.3H156.15" stroke="#5e9cd7" stroke-width="0.9" fill="none"/>
<rect x="153.55" y="319.1" width="3.4" height="9.4" rx="0.5" fill="url(#g2)" stroke="#5e9cd7" stroke-width="0.9"/>
<line x1="153.55" y1="324" x2="156.95" y2="324" stroke="#5e9cd7" stroke-width="0.8"/>
<path d="M160.67 316.7V311.4M159.77 311.4H161.57" stroke="#7cb3e2" stroke-width="0.9" fill="none"/>
<path d="M160.67 327.6V336.3M159.77 336.3H161.57" stroke="#7cb3e2" stroke-width="0.9" fill="none"/>
<rect x="158.97" y="316.7" width="3.4" height="10.9" rx="0.5" fill="url(#g3)" stroke="#7cb3e2" stroke-width="0.9"/>
<line x1="158.97" y1="323" x2="162.37" y2="323" stroke="#7cb3e2" stroke-width="0.8"/>
<path d="M166.09 319.1V307.4M165.19 307.4H166.99" stroke="#9cc9ec" stroke-width="0.9" fill="none"/>
<path d="M166.09 328.7V336.3M165.19 336.3H166.99" stroke="#9cc9ec" stroke-width="0.9" fill="none"/>
<rect x="164.39" y="319.1" width="3.4" height="9.6" rx="0.5" fill="url(#g4)" stroke="#9cc9ec" stroke-width="0.9"/>
<line x1="164.39" y1="324" x2="167.79" y2="324" stroke="#9cc9ec" stroke-width="0.8"/>
<polyline points="144.41,323.4 149.83,323.4 155.25,323.4 160.67,323.4 166.09,323.4" fill="none" stroke="#202838" stroke-width="0.95" stroke-dasharray="1.6 0.8"/>
<rect x="177.01" y="314.6" width="3.4" height="8.8" rx="0.5" fill="url(#g0)" stroke="#4a6396" stroke-width="0.9"/>
<line x1="177.01" y1="319" x2="180.41" y2="319" stroke="#4a6396" stroke-width="0.8"/>
<rect x="182.43" y="316.8" width="3.4" height="7.4" rx="0.5" fill="url(#g1)" stroke="#4f86c6" stroke-width="0.9"/>
<line x1="182.43" y1="320.5" x2="185.83" y2="320.5" stroke="#4f86c6" stroke-width="0.8"/>
<rect x="187.85" y="316.4" width="3.4" height="10.6" rx="0.5" fill="url(#g2)" stroke="#5e9cd7" stroke-width="0.9"/>
<line x1="187.85" y1="321.5" x2="191.25" y2="321.5" stroke="#5e9cd7" stroke-width="0.8"/>
<rect x="193.27" y="313.1" width="3.4" height="16.6" rx="0.5" fill="url(#g3)" stroke="#7cb3e2" stroke-width="0.9"/>
<line x1="193.27" y1="321.5" x2="196.67" y2="321.5" stroke="#7cb3e2" stroke-width="0.8"/>
<rect x="198.69" y="316.6" width="3.4" height="13.3" rx="0.5" fill="url(#g4)" stroke="#9cc9ec" stroke-width="0.9"/>
<line x1="198.69" y1="323" x2="202.09" y2="323" stroke="#9cc9ec" stroke-width="0.8"/>
<polyline points="178.71,319.7 184.13,320.4 189.55,321.5 194.97,322 200.39,323.1" fill="none" stroke="#202838" stroke-width="0.95" stroke-dasharray="1.6 0.8"/>
<rect x="74.86" y="225.35" width="1.7" height="1.7" fill="#1f3d7a"/>
<rect x="74.86" y="282.35" width="1.7" height="1.7" fill="#1f3d7a"/>
<rect x="74.86" y="303.65" width="1.7" height="1.7" fill="#1f3d7a"/>
<rect x="80.28" y="281.15" width="1.7" height="1.7" fill="#2b5fb0"/>
<rect x="80.28" y="283.85" width="1.7" height="1.7" fill="#2b5fb0"/>
<rect x="85.7" y="266.45" width="1.7" height="1.7" fill="#3b7fcc"/>
<rect x="85.7" y="286.85" width="1.7" height="1.7" fill="#3b7fcc"/>
<rect x="91.12" y="279.75" width="1.7" height="1.7" fill="#5a9fdc"/>
<rect x="96.54" y="286.65" width="1.7" height="1.7" fill="#86bfe6"/>
<rect x="148.98" y="302.75" width="1.7" height="1.7" fill="#2b5fb0"/>
<rect x="154.4" y="304.05" width="1.7" height="1.7" fill="#3b7fcc"/>
<rect x="156.8" y="219.7" width="43" height="15.9" fill="#fff" stroke="#3a3a3a" stroke-width="1"/>
<text x="178.3" y="230.55" font-size="9.4" font-weight="bold" fill="#1a1a1a" text-anchor="middle" textLength="31.4" lengthAdjust="spacingAndGlyphs">FAPI-46</text>
<line x1="240.5" y1="326.72" x2="414.1" y2="326.72" stroke="#f3f3f3" stroke-width="0.8"/>
<line x1="240.5" y1="312.44" x2="414.1" y2="312.44" stroke="#e7e7e7" stroke-width="0.8"/>
<line x1="240.5" y1="298.17" x2="414.1" y2="298.17" stroke="#f3f3f3" stroke-width="0.8"/>
<line x1="240.5" y1="283.89" x2="414.1" y2="283.89" stroke="#e7e7e7" stroke-width="0.8"/>
<line x1="240.5" y1="269.61" x2="414.1" y2="269.61" stroke="#f3f3f3" stroke-width="0.8"/>
<line x1="240.5" y1="255.33" x2="414.1" y2="255.33" stroke="#e7e7e7" stroke-width="0.8"/>
<line x1="240.5" y1="241.06" x2="414.1" y2="241.06" stroke="#f3f3f3" stroke-width="0.8"/>
<line x1="240.5" y1="226.78" x2="414.1" y2="226.78" stroke="#e7e7e7" stroke-width="0.8"/>
<path d="M239.9 212.5H414.1V341" fill="none" stroke="#a3a3a3" stroke-width="1.3"/>
<line x1="240.5" y1="211.9" x2="240.5" y2="341.5" stroke="#6a6a6a" stroke-width="1"/>
<path d="M238.2 341H240.5M239.3 326.72H240.5M238.2 312.44H240.5M239.3 298.17H240.5M238.2 283.89H240.5M239.3 269.61H240.5M238.2 255.33H240.5M239.3 241.06H240.5M238.2 226.78H240.5M239.3 212.5H240.5" stroke="#6a6a6a" stroke-width="0.9" fill="none"/>
<g font-size="6.9" fill="#333" stroke="#333" stroke-width="0.12" text-anchor="end"><text x="236.7" y="343.2">0.0</text><text x="236.7" y="314.64">5.0</text><text x="236.7" y="286.09">10.0</text><text x="236.7" y="257.53">15.0</text><text x="236.7" y="228.98">20.0</text></g>
<text transform="translate(217.2 276.9) rotate(-90)" font-size="8.3" fill="#2a2a2a" stroke="#2a2a2a" stroke-width="0.2" text-anchor="middle" dy="2.7" textLength="60" lengthAdjust="spacingAndGlyphs">SUVmean [g/mL]</text>
<path d="M244.5 341.7H271.6M244.5 352H271.6M244.5 363H271.6" stroke="#808080" stroke-width="1.1" fill="none"/>
<path d="M249.92 341.7V352M255.34 341.7V352M260.76 341.7V352M266.18 341.7V352" stroke="#868686" stroke-width="0.9" fill="none"/>
<g font-size="7.2" fill="#1e1e1e" stroke="#1e1e1e" stroke-width="0.22" text-anchor="middle" transform="scale(0.8 1)"><text x="309.01" y="349.6">1</text><text x="315.79" y="349.6">2</text><text x="322.56" y="349.6">3</text><text x="329.34" y="349.6">4</text><text x="336.11" y="349.6">5</text></g>
<text x="258.05" y="360.4" font-size="6.6" fill="#222" stroke="#222" stroke-width="0.2" text-anchor="middle">PPa</text>
<path d="M279 341.7H306.1M279 352H306.1M279 363H306.1" stroke="#808080" stroke-width="1.1" fill="none"/>
<path d="M284.42 341.7V352M289.84 341.7V352M295.26 341.7V352M300.68 341.7V352" stroke="#868686" stroke-width="0.9" fill="none"/>
<g font-size="7.2" fill="#1e1e1e" stroke="#1e1e1e" stroke-width="0.22" text-anchor="middle" transform="scale(0.8 1)"><text x="352.14" y="349.6">1</text><text x="358.91" y="349.6">2</text><text x="365.69" y="349.6">3</text><text x="372.46" y="349.6">4</text><text x="379.24" y="349.6">5</text></g>
<text x="292.55" y="360.4" font-size="6.6" fill="#222" stroke="#222" stroke-width="0.2" text-anchor="middle">M</text>
<path d="M313.6 341.7H340.7M313.6 352H340.7M313.6 363H340.7" stroke="#808080" stroke-width="1.1" fill="none"/>
<path d="M319.02 341.7V352M324.44 341.7V352M329.86 341.7V352M335.28 341.7V352" stroke="#868686" stroke-width="0.9" fill="none"/>
<g font-size="7.2" fill="#1e1e1e" stroke="#1e1e1e" stroke-width="0.22" text-anchor="middle" transform="scale(0.8 1)"><text x="395.39" y="349.6">1</text><text x="402.16" y="349.6">2</text><text x="408.94" y="349.6">3</text><text x="415.71" y="349.6">4</text><text x="422.49" y="349.6">5</text></g>
<text x="327.15" y="360.4" font-size="6.6" fill="#222" stroke="#222" stroke-width="0.2" text-anchor="middle">MPa</text>
<path d="M348.2 341.7H375.3M348.2 352H375.3M348.2 363H375.3" stroke="#808080" stroke-width="1.1" fill="none"/>
<path d="M353.62 341.7V352M359.04 341.7V352M364.46 341.7V352M369.88 341.7V352" stroke="#868686" stroke-width="0.9" fill="none"/>
<g font-size="7.2" fill="#1e1e1e" stroke="#1e1e1e" stroke-width="0.22" text-anchor="middle" transform="scale(0.8 1)"><text x="438.64" y="349.6">1</text><text x="445.41" y="349.6">2</text><text x="452.19" y="349.6">3</text><text x="458.96" y="349.6">4</text><text x="465.74" y="349.6">5</text></g>
<text x="361.75" y="360.4" font-size="6.6" fill="#222" stroke="#222" stroke-width="0.2" text-anchor="middle">IR</text>
<path d="M382.7 341.7H409.8M382.7 352H409.8M382.7 363H409.8" stroke="#808080" stroke-width="1.1" fill="none"/>
<path d="M388.12 341.7V352M393.54 341.7V352M398.96 341.7V352M404.38 341.7V352" stroke="#868686" stroke-width="0.9" fill="none"/>
<g font-size="7.2" fill="#1e1e1e" stroke="#1e1e1e" stroke-width="0.22" text-anchor="middle" transform="scale(0.8 1)"><text x="481.76" y="349.6">1</text><text x="488.54" y="349.6">2</text><text x="495.31" y="349.6">3</text><text x="502.09" y="349.6">4</text><text x="508.86" y="349.6">5</text></g>
<text x="396.25" y="360.4" font-size="6.6" fill="#222" stroke="#222" stroke-width="0.2" text-anchor="middle">IPa</text>
<path d="M247.21 328V323.8M246.31 323.8H248.11" stroke="#4a6396" stroke-width="0.9" fill="none"/>
<path d="M247.21 333.3V333.8M246.31 333.8H248.11" stroke="#4a6396" stroke-width="0.9" fill="none"/>
<rect x="245.51" y="328" width="3.4" height="5.3" rx="0.5" fill="url(#g0)" stroke="#4a6396" stroke-width="0.9"/>
<line x1="245.51" y1="330.5" x2="248.91" y2="330.5" stroke="#4a6396" stroke-width="0.8"/>
<path d="M252.63 331.4V326.4M251.73 326.4H253.53" stroke="#4f86c6" stroke-width="0.9" fill="none"/>
<path d="M252.63 336.4V337.1M251.73 337.1H253.53" stroke="#4f86c6" stroke-width="0.9" fill="none"/>
<rect x="250.93" y="331.4" width="3.4" height="5" rx="0.5" fill="url(#g1)" stroke="#4f86c6" stroke-width="0.9"/>
<line x1="250.93" y1="334" x2="254.33" y2="334" stroke="#4f86c6" stroke-width="0.8"/>
<path d="M258.05 336.4V337.8M257.15 337.8H258.95" stroke="#5e9cd7" stroke-width="0.9" fill="none"/>
<rect x="256.35" y="332.5" width="3.4" height="3.9" rx="0.5" fill="url(#g2)" stroke="#5e9cd7" stroke-width="0.9"/>
<line x1="256.35" y1="334.5" x2="259.75" y2="334.5" stroke="#5e9cd7" stroke-width="0.8"/>
<rect x="261.77" y="332.2" width="3.4" height="4.2" rx="0.5" fill="url(#g3)" stroke="#7cb3e2" stroke-width="0.9"/>
<line x1="261.77" y1="334.3" x2="265.17" y2="334.3" stroke="#7cb3e2" stroke-width="0.8"/>
<rect x="267.19" y="333.7" width="3.4" height="4.6" rx="0.5" fill="url(#g4)" stroke="#9cc9ec" stroke-width="0.9"/>
<line x1="267.19" y1="336" x2="270.59" y2="336" stroke="#9cc9ec" stroke-width="0.8"/>
<polyline points="247.21,330.6 252.63,332.5 258.05,333.7 263.47,334.3 268.89,334.8" fill="none" stroke="#202838" stroke-width="0.95" stroke-dasharray="1.6 0.8"/>
<path d="M281.71 299.5V281.8M280.81 281.8H282.61" stroke="#4a6396" stroke-width="0.9" fill="none"/>
<path d="M281.71 320.7V337.9M280.81 337.9H282.61" stroke="#4a6396" stroke-width="0.9" fill="none"/>
<rect x="280.01" y="299.5" width="3.4" height="21.2" rx="0.5" fill="url(#g0)" stroke="#4a6396" stroke-width="0.9"/>
<line x1="280.01" y1="315.2" x2="283.41" y2="315.2" stroke="#4a6396" stroke-width="0.8"/>
<path d="M287.13 295.9V281.4M286.23 281.4H288.03" stroke="#4f86c6" stroke-width="0.9" fill="none"/>
<path d="M287.13 320.7V337.9M286.23 337.9H288.03" stroke="#4f86c6" stroke-width="0.9" fill="none"/>
<rect x="285.43" y="295.9" width="3.4" height="24.8" rx="0.5" fill="url(#g1)" stroke="#4f86c6" stroke-width="0.9"/>
<line x1="285.43" y1="311.3" x2="288.83" y2="311.3" stroke="#4f86c6" stroke-width="0.8"/>
<path d="M292.55 297.1V283.5M291.65 283.5H293.45" stroke="#5e9cd7" stroke-width="0.9" fill="none"/>
<path d="M292.55 320.7V337.9M291.65 337.9H293.45" stroke="#5e9cd7" stroke-width="0.9" fill="none"/>
<rect x="290.85" y="297.1" width="3.4" height="23.6" rx="0.5" fill="url(#g2)" stroke="#5e9cd7" stroke-width="0.9"/>
<line x1="290.85" y1="314.2" x2="294.25" y2="314.2" stroke="#5e9cd7" stroke-width="0.8"/>
<path d="M297.97 293.6V277.9M297.07 277.9H298.87" stroke="#7cb3e2" stroke-width="0.9" fill="none"/>
<path d="M297.97 320.7V338.4M297.07 338.4H298.87" stroke="#7cb3e2" stroke-width="0.9" fill="none"/>
<rect x="296.27" y="293.6" width="3.4" height="27.1" rx="0.5" fill="url(#g3)" stroke="#7cb3e2" stroke-width="0.9"/>
<line x1="296.27" y1="311.3" x2="299.67" y2="311.3" stroke="#7cb3e2" stroke-width="0.8"/>
<path d="M303.39 288.9V271.6M302.49 271.6H304.29" stroke="#9cc9ec" stroke-width="0.9" fill="none"/>
<path d="M303.39 320.1V337.3M302.49 337.3H304.29" stroke="#9cc9ec" stroke-width="0.9" fill="none"/>
<rect x="301.69" y="288.9" width="3.4" height="31.2" rx="0.5" fill="url(#g4)" stroke="#9cc9ec" stroke-width="0.9"/>
<line x1="301.69" y1="307.2" x2="305.09" y2="307.2" stroke="#9cc9ec" stroke-width="0.8"/>
<polyline points="281.71,306.6 287.13,306.9 292.55,307.4 297.97,305.7 303.39,303.4" fill="none" stroke="#202838" stroke-width="0.95" stroke-dasharray="1.6 0.8"/>
<rect x="314.61" y="299.7" width="3.4" height="18.5" rx="0.5" fill="url(#g0)" stroke="#4a6396" stroke-width="0.9"/>
<line x1="314.61" y1="308.5" x2="318.01" y2="308.5" stroke="#4a6396" stroke-width="0.8"/>
<path d="M321.73 301.3V295.9M320.83 295.9H322.63" stroke="#4f86c6" stroke-width="0.9" fill="none"/>
<rect x="320.03" y="301.3" width="3.4" height="16.4" rx="0.5" fill="url(#g1)" stroke="#4f86c6" stroke-width="0.9"/>
<line x1="320.03" y1="309" x2="323.43" y2="309" stroke="#4f86c6" stroke-width="0.8"/>
<path d="M327.15 305.7V296.4M326.25 296.4H328.05" stroke="#5e9cd7" stroke-width="0.9" fill="none"/>
<rect x="325.45" y="305.7" width="3.4" height="12" rx="0.5" fill="url(#g2)" stroke="#5e9cd7" stroke-width="0.9"/>
<line x1="325.45" y1="311" x2="328.85" y2="311" stroke="#5e9cd7" stroke-width="0.8"/>
<path d="M332.57 301.3V291M331.67 291H333.47" stroke="#7cb3e2" stroke-width="0.9" fill="none"/>
<rect x="330.87" y="301.3" width="3.4" height="15.8" rx="0.5" fill="url(#g3)" stroke="#7cb3e2" stroke-width="0.9"/>
<line x1="330.87" y1="309" x2="334.27" y2="309" stroke="#7cb3e2" stroke-width="0.8"/>
<path d="M337.99 298.1V288.8M337.09 288.8H338.89" stroke="#9cc9ec" stroke-width="0.9" fill="none"/>
<path d="M337.99 311.7V315.5M337.09 315.5H338.89" stroke="#9cc9ec" stroke-width="0.9" fill="none"/>
<rect x="336.29" y="298.1" width="3.4" height="13.6" rx="0.5" fill="url(#g4)" stroke="#9cc9ec" stroke-width="0.9"/>
<line x1="336.29" y1="305" x2="339.69" y2="305" stroke="#9cc9ec" stroke-width="0.8"/>
<polyline points="316.31,308.4 321.73,309.5 327.15,310.6 332.57,309 337.99,305.2" fill="none" stroke="#202838" stroke-width="0.95" stroke-dasharray="1.6 0.8"/>
<path d="M350.91 304.1V292.9M350.01 292.9H351.81" stroke="#4a6396" stroke-width="0.9" fill="none"/>
<path d="M350.91 321.8V331.4M350.01 331.4H351.81" stroke="#4a6396" stroke-width="0.9" fill="none"/>
<rect x="349.21" y="304.1" width="3.4" height="17.7" rx="0.5" fill="url(#g0)" stroke="#4a6396" stroke-width="0.9"/>
<line x1="349.21" y1="313.9" x2="352.61" y2="313.9" stroke="#4a6396" stroke-width="0.8"/>
<path d="M356.33 302.5V282.6M355.43 282.6H357.23" stroke="#4f86c6" stroke-width="0.9" fill="none"/>
<path d="M356.33 319.8V331.6M355.43 331.6H357.23" stroke="#4f86c6" stroke-width="0.9" fill="none"/>
<rect x="354.63" y="302.5" width="3.4" height="17.3" rx="0.5" fill="url(#g1)" stroke="#4f86c6" stroke-width="0.9"/>
<line x1="354.63" y1="313.4" x2="358.03" y2="313.4" stroke="#4f86c6" stroke-width="0.8"/>
<path d="M361.75 300.7V277.1M360.85 277.1H362.65" stroke="#5e9cd7" stroke-width="0.9" fill="none"/>
<path d="M361.75 320.5V331.4M360.85 331.4H362.65" stroke="#5e9cd7" stroke-width="0.9" fill="none"/>
<rect x="360.05" y="300.7" width="3.4" height="19.8" rx="0.5" fill="url(#g2)" stroke="#5e9cd7" stroke-width="0.9"/>
<line x1="360.05" y1="310" x2="363.45" y2="310" stroke="#5e9cd7" stroke-width="0.8"/>
<path d="M367.17 298.4V278.5M366.27 278.5H368.07" stroke="#7cb3e2" stroke-width="0.9" fill="none"/>
<path d="M367.17 320.8V331.4M366.27 331.4H368.07" stroke="#7cb3e2" stroke-width="0.9" fill="none"/>
<rect x="365.47" y="298.4" width="3.4" height="22.4" rx="0.5" fill="url(#g3)" stroke="#7cb3e2" stroke-width="0.9"/>
<line x1="365.47" y1="309" x2="368.87" y2="309" stroke="#7cb3e2" stroke-width="0.8"/>
<path d="M372.59 295.2V276.1M371.69 276.1H373.49" stroke="#9cc9ec" stroke-width="0.9" fill="none"/>
<path d="M372.59 317.1V332M371.69 332H373.49" stroke="#9cc9ec" stroke-width="0.9" fill="none"/>
<rect x="370.89" y="295.2" width="3.4" height="21.9" rx="0.5" fill="url(#g4)" stroke="#9cc9ec" stroke-width="0.9"/>
<line x1="370.89" y1="306" x2="374.29" y2="306" stroke="#9cc9ec" stroke-width="0.8"/>
<polyline points="350.91,312.6 356.33,310.7 361.75,309.3 367.17,308.2 372.59,306.6" fill="none" stroke="#202838" stroke-width="0.95" stroke-dasharray="1.6 0.8"/>
<rect x="383.71" y="295.8" width="3.4" height="16.9" rx="0.5" fill="url(#g0)" stroke="#4a6396" stroke-width="0.9"/>
<line x1="383.71" y1="304" x2="387.11" y2="304" stroke="#4a6396" stroke-width="0.8"/>
<rect x="389.13" y="296.3" width="3.4" height="18" rx="0.5" fill="url(#g1)" stroke="#4f86c6" stroke-width="0.9"/>
<line x1="389.13" y1="305" x2="392.53" y2="305" stroke="#4f86c6" stroke-width="0.8"/>
<rect x="394.55" y="292.9" width="3.4" height="25.5" rx="0.5" fill="url(#g2)" stroke="#5e9cd7" stroke-width="0.9"/>
<line x1="394.55" y1="305.5" x2="397.95" y2="305.5" stroke="#5e9cd7" stroke-width="0.8"/>
<rect x="399.97" y="290.9" width="3.4" height="30" rx="0.5" fill="url(#g3)" stroke="#7cb3e2" stroke-width="0.9"/>
<line x1="399.97" y1="306" x2="403.37" y2="306" stroke="#7cb3e2" stroke-width="0.8"/>
<rect x="405.39" y="291.1" width="3.4" height="26.5" rx="0.5" fill="url(#g4)" stroke="#9cc9ec" stroke-width="0.9"/>
<line x1="405.39" y1="304.5" x2="408.79" y2="304.5" stroke="#9cc9ec" stroke-width="0.8"/>
<polyline points="385.41,304 390.83,305.3 396.25,305.6 401.67,306.2 407.09,304.5" fill="none" stroke="#202838" stroke-width="0.95" stroke-dasharray="1.6 0.8"/>
<rect x="257.2" y="327.45" width="1.7" height="1.7" fill="#3b7fcc"/>
<rect x="280.86" y="232.85" width="1.7" height="1.7" fill="#1f3d7a"/>
<rect x="286.28" y="237.25" width="1.7" height="1.7" fill="#2b5fb0"/>
<rect x="291.7" y="243.95" width="1.7" height="1.7" fill="#3b7fcc"/>
<rect x="297.12" y="238.35" width="1.7" height="1.7" fill="#5a9fdc"/>
<rect x="302.54" y="235.25" width="1.7" height="1.7" fill="#86bfe6"/>
<rect x="363.9" y="219.3" width="43" height="16.1" fill="#fff" stroke="#3a3a3a" stroke-width="1"/>
<text x="385.4" y="230.25" font-size="9.4" font-weight="bold" fill="#1a1a1a" text-anchor="middle" textLength="31.4" lengthAdjust="spacingAndGlyphs">FAPI-46</text>
<line x1="34" y1="510.13" x2="205.5" y2="510.13" stroke="#f3f3f3" stroke-width="0.8"/>
<line x1="34" y1="499.55" x2="205.5" y2="499.55" stroke="#e7e7e7" stroke-width="0.8"/>
<line x1="34" y1="488.98" x2="205.5" y2="488.98" stroke="#f3f3f3" stroke-width="0.8"/>
<line x1="34" y1="478.4" x2="205.5" y2="478.4" stroke="#e7e7e7" stroke-width="0.8"/>
<line x1="34" y1="467.83" x2="205.5" y2="467.83" stroke="#f3f3f3" stroke-width="0.8"/>
<line x1="34" y1="457.25" x2="205.5" y2="457.25" stroke="#e7e7e7" stroke-width="0.8"/>
<line x1="34" y1="446.68" x2="205.5" y2="446.68" stroke="#f3f3f3" stroke-width="0.8"/>
<line x1="34" y1="436.1" x2="205.5" y2="436.1" stroke="#e7e7e7" stroke-width="0.8"/>
<line x1="34" y1="425.53" x2="205.5" y2="425.53" stroke="#f3f3f3" stroke-width="0.8"/>
<line x1="34" y1="414.95" x2="205.5" y2="414.95" stroke="#e7e7e7" stroke-width="0.8"/>
<line x1="34" y1="404.38" x2="205.5" y2="404.38" stroke="#f3f3f3" stroke-width="0.8"/>
<path d="M31.7 393.8H205.5V520.7" fill="none" stroke="#a3a3a3" stroke-width="1.3"/>
<line x1="34" y1="393.2" x2="34" y2="521.2" stroke="#6a6a6a" stroke-width="1"/>
<path d="M31.7 520.7H34M32.8 510.13H34M31.7 499.55H34M32.8 488.98H34M31.7 478.4H34M32.8 467.83H34M31.7 457.25H34M32.8 446.68H34M31.7 436.1H34M32.8 425.53H34M31.7 414.95H34M32.8 404.38H34M31.7 393.8H34" stroke="#6a6a6a" stroke-width="0.9" fill="none"/>
<g font-size="6.9" fill="#333" stroke="#333" stroke-width="0.12" text-anchor="end"><text x="30.2" y="522.9">0.0</text><text x="30.2" y="501.75">2.0</text><text x="30.2" y="480.6">4.0</text><text x="30.2" y="459.45">6.0</text><text x="30.2" y="438.3">8.0</text><text x="30.2" y="417.15">10.0</text><text x="30.2" y="396">12.0</text></g>
<text transform="translate(11.9 456.7) rotate(-90)" font-size="7.9" fill="#2a2a2a" stroke="#2a2a2a" stroke-width="0.2" text-anchor="middle" dy="2.7" textLength="54.5" lengthAdjust="spacingAndGlyphs">SUVmax [g/mL]</text>
<path d="M41.5 520.9H68.3M41.5 531.3H68.3M41.5 542H68.3" stroke="#808080" stroke-width="1.1" fill="none"/>
<path d="M46.86 520.9V531.3M52.22 520.9V531.3M57.58 520.9V531.3M62.94 520.9V531.3" stroke="#868686" stroke-width="0.9" fill="none"/>
<g font-size="7.2" fill="#1e1e1e" stroke="#1e1e1e" stroke-width="0.22" text-anchor="middle" transform="scale(0.8 1)"><text x="55.22" y="528.9">1</text><text x="61.92" y="528.9">2</text><text x="68.62" y="528.9">3</text><text x="75.33" y="528.9">4</text><text x="82.03" y="528.9">5</text></g>
<text x="54.9" y="539.1" font-size="6.6" fill="#222" stroke="#222" stroke-width="0.2" text-anchor="middle">PPa</text>
<path d="M75.2 520.9H102M75.2 531.3H102M75.2 542H102" stroke="#808080" stroke-width="1.1" fill="none"/>
<path d="M80.56 520.9V531.3M85.92 520.9V531.3M91.28 520.9V531.3M96.64 520.9V531.3" stroke="#868686" stroke-width="0.9" fill="none"/>
<g font-size="7.2" fill="#1e1e1e" stroke="#1e1e1e" stroke-width="0.22" text-anchor="middle" transform="scale(0.8 1)"><text x="97.35" y="528.9">1</text><text x="104.05" y="528.9">2</text><text x="110.75" y="528.9">3</text><text x="117.45" y="528.9">4</text><text x="124.15" y="528.9">5</text></g>
<text x="88.6" y="539.1" font-size="6.6" fill="#222" stroke="#222" stroke-width="0.2" text-anchor="middle">M</text>
<path d="M108.5 520.9H135.3M108.5 531.3H135.3M108.5 542H135.3" stroke="#808080" stroke-width="1.1" fill="none"/>
<path d="M113.86 520.9V531.3M119.22 520.9V531.3M124.58 520.9V531.3M129.94 520.9V531.3" stroke="#868686" stroke-width="0.9" fill="none"/>
<g font-size="7.2" fill="#1e1e1e" stroke="#1e1e1e" stroke-width="0.22" text-anchor="middle" transform="scale(0.8 1)"><text x="138.97" y="528.9">1</text><text x="145.68" y="528.9">2</text><text x="152.38" y="528.9">3</text><text x="159.07" y="528.9">4</text><text x="165.78" y="528.9">5</text></g>
<text x="121.9" y="539.1" font-size="6.6" fill="#222" stroke="#222" stroke-width="0.2" text-anchor="middle">MPa</text>
<path d="M141.8 520.9H168.6M141.8 531.3H168.6M141.8 542H168.6" stroke="#808080" stroke-width="1.1" fill="none"/>
<path d="M147.16 520.9V531.3M152.52 520.9V531.3M157.88 520.9V531.3M163.24 520.9V531.3" stroke="#868686" stroke-width="0.9" fill="none"/>
<g font-size="7.2" fill="#1e1e1e" stroke="#1e1e1e" stroke-width="0.22" text-anchor="middle" transform="scale(0.8 1)"><text x="180.6" y="528.9">1</text><text x="187.3" y="528.9">2</text><text x="194" y="528.9">3</text><text x="200.7" y="528.9">4</text><text x="207.4" y="528.9">5</text></g>
<text x="155.2" y="539.1" font-size="6.6" fill="#222" stroke="#222" stroke-width="0.2" text-anchor="middle">IR</text>
<path d="M175.4 520.9H202.2M175.4 531.3H202.2M175.4 542H202.2" stroke="#808080" stroke-width="1.1" fill="none"/>
<path d="M180.76 520.9V531.3M186.12 520.9V531.3M191.48 520.9V531.3M196.84 520.9V531.3" stroke="#868686" stroke-width="0.9" fill="none"/>
<g font-size="7.2" fill="#1e1e1e" stroke="#1e1e1e" stroke-width="0.22" text-anchor="middle" transform="scale(0.8 1)"><text x="222.6" y="528.9">1</text><text x="229.3" y="528.9">2</text><text x="236" y="528.9">3</text><text x="242.7" y="528.9">4</text><text x="249.4" y="528.9">5</text></g>
<text x="188.8" y="539.1" font-size="6.6" fill="#222" stroke="#222" stroke-width="0.2" text-anchor="middle">IPa</text>
<rect x="42.48" y="490.2" width="3.4" height="4" rx="0.5" fill="url(#g0)" stroke="#4a6396" stroke-width="0.9"/>
<line x1="42.48" y1="492.2" x2="45.88" y2="492.2" stroke="#4a6396" stroke-width="0.8"/>
<rect x="47.84" y="492.3" width="3.4" height="7.2" rx="0.5" fill="url(#g1)" stroke="#4f86c6" stroke-width="0.9"/>
<line x1="47.84" y1="496" x2="51.24" y2="496" stroke="#4f86c6" stroke-width="0.8"/>
<rect x="53.2" y="495.3" width="3.4" height="8.2" rx="0.5" fill="url(#g2)" stroke="#5e9cd7" stroke-width="0.9"/>
<line x1="53.2" y1="499" x2="56.6" y2="499" stroke="#5e9cd7" stroke-width="0.8"/>
<rect x="58.56" y="496.3" width="3.4" height="4" rx="0.5" fill="url(#g3)" stroke="#7cb3e2" stroke-width="0.9"/>
<line x1="58.56" y1="498.3" x2="61.96" y2="498.3" stroke="#7cb3e2" stroke-width="0.8"/>
<rect x="63.92" y="497.2" width="3.4" height="8" rx="0.5" fill="url(#g4)" stroke="#9cc9ec" stroke-width="0.9"/>
<line x1="63.92" y1="501" x2="67.32" y2="501" stroke="#9cc9ec" stroke-width="0.8"/>
<polyline points="44.18,492.3 49.54,495.7 54.9,497.6 60.26,498.4 65.62,499.9" fill="none" stroke="#202838" stroke-width="0.95" stroke-dasharray="1.6 0.8"/>
<path d="M77.88 458V410.3M76.98 410.3H78.78" stroke="#4a6396" stroke-width="0.9" fill="none"/>
<path d="M77.88 495.7V505.5M76.98 505.5H78.78" stroke="#4a6396" stroke-width="0.9" fill="none"/>
<rect x="76.18" y="458" width="3.4" height="37.7" rx="0.5" fill="url(#g0)" stroke="#4a6396" stroke-width="0.9"/>
<line x1="76.18" y1="483.3" x2="79.58" y2="483.3" stroke="#4a6396" stroke-width="0.8"/>
<path d="M83.24 460.9V435.4M82.34 435.4H84.14" stroke="#4f86c6" stroke-width="0.9" fill="none"/>
<path d="M83.24 491.6V507M82.34 507H84.14" stroke="#4f86c6" stroke-width="0.9" fill="none"/>
<rect x="81.54" y="460.9" width="3.4" height="30.7" rx="0.5" fill="url(#g1)" stroke="#4f86c6" stroke-width="0.9"/>
<line x1="81.54" y1="479.2" x2="84.94" y2="479.2" stroke="#4f86c6" stroke-width="0.8"/>
<path d="M88.6 463V438.4M87.7 438.4H89.5" stroke="#5e9cd7" stroke-width="0.9" fill="none"/>
<path d="M88.6 492.5V504.4M87.7 504.4H89.5" stroke="#5e9cd7" stroke-width="0.9" fill="none"/>
<rect x="86.9" y="463" width="3.4" height="29.5" rx="0.5" fill="url(#g2)" stroke="#5e9cd7" stroke-width="0.9"/>
<line x1="86.9" y1="482.4" x2="90.3" y2="482.4" stroke="#5e9cd7" stroke-width="0.8"/>
<path d="M93.96 463.3V439.6M93.06 439.6H94.86" stroke="#7cb3e2" stroke-width="0.9" fill="none"/>
<path d="M93.96 491.4V498.4M93.06 498.4H94.86" stroke="#7cb3e2" stroke-width="0.9" fill="none"/>
<rect x="92.26" y="463.3" width="3.4" height="28.1" rx="0.5" fill="url(#g3)" stroke="#7cb3e2" stroke-width="0.9"/>
<line x1="92.26" y1="480.4" x2="95.66" y2="480.4" stroke="#7cb3e2" stroke-width="0.8"/>
<path d="M99.32 470.3V458.3M98.42 458.3H100.22" stroke="#9cc9ec" stroke-width="0.9" fill="none"/>
<path d="M99.32 489.5V499.3M98.42 499.3H100.22" stroke="#9cc9ec" stroke-width="0.9" fill="none"/>
<rect x="97.62" y="470.3" width="3.4" height="19.2" rx="0.5" fill="url(#g4)" stroke="#9cc9ec" stroke-width="0.9"/>
<line x1="97.62" y1="482.4" x2="101.02" y2="482.4" stroke="#9cc9ec" stroke-width="0.8"/>
<polyline points="77.88,474.1 83.24,474.1 88.6,474.1 93.96,474.1 99.32,474.1" fill="none" stroke="#202838" stroke-width="0.95" stroke-dasharray="1.6 0.8"/>
<path d="M111.18 419.2V410.5M110.28 410.5H112.08" stroke="#4a6396" stroke-width="0.9" fill="none"/>
<path d="M111.18 466.7V473.6M110.28 473.6H112.08" stroke="#4a6396" stroke-width="0.9" fill="none"/>
<rect x="109.48" y="419.2" width="3.4" height="47.5" rx="0.5" fill="url(#g0)" stroke="#4a6396" stroke-width="0.9"/>
<line x1="109.48" y1="444.5" x2="112.88" y2="444.5" stroke="#4a6396" stroke-width="0.8"/>
<path d="M116.54 419.5V404M115.64 404H117.44" stroke="#4f86c6" stroke-width="0.9" fill="none"/>
<path d="M116.54 469.6V472.4M115.64 472.4H117.44" stroke="#4f86c6" stroke-width="0.9" fill="none"/>
<rect x="114.84" y="419.5" width="3.4" height="50.1" rx="0.5" fill="url(#g1)" stroke="#4f86c6" stroke-width="0.9"/>
<line x1="114.84" y1="450.6" x2="118.24" y2="450.6" stroke="#4f86c6" stroke-width="0.8"/>
<path d="M121.9 420V401.9M121 401.9H122.8" stroke="#5e9cd7" stroke-width="0.9" fill="none"/>
<path d="M121.9 479.3V480.5M121 480.5H122.8" stroke="#5e9cd7" stroke-width="0.9" fill="none"/>
<rect x="120.2" y="420" width="3.4" height="59.3" rx="0.5" fill="url(#g2)" stroke="#5e9cd7" stroke-width="0.9"/>
<line x1="120.2" y1="457.2" x2="123.6" y2="457.2" stroke="#5e9cd7" stroke-width="0.8"/>
<path d="M127.26 425.2V410.5M126.36 410.5H128.16" stroke="#7cb3e2" stroke-width="0.9" fill="none"/>
<path d="M127.26 477.9V480M126.36 480H128.16" stroke="#7cb3e2" stroke-width="0.9" fill="none"/>
<rect x="125.56" y="425.2" width="3.4" height="52.7" rx="0.5" fill="url(#g3)" stroke="#7cb3e2" stroke-width="0.9"/>
<line x1="125.56" y1="456.3" x2="128.96" y2="456.3" stroke="#7cb3e2" stroke-width="0.8"/>
<path d="M132.62 419.2V411.4M131.72 411.4H133.52" stroke="#9cc9ec" stroke-width="0.9" fill="none"/>
<rect x="130.92" y="419.2" width="3.4" height="63.5" rx="0.5" fill="url(#g4)" stroke="#9cc9ec" stroke-width="0.9"/>
<line x1="130.92" y1="454.6" x2="134.32" y2="454.6" stroke="#9cc9ec" stroke-width="0.8"/>
<polyline points="111.18,444.2 116.54,444.2 121.9,447.7 127.26,450.6 132.62,451.1" fill="none" stroke="#202838" stroke-width="0.95" stroke-dasharray="1.6 0.8"/>
<path d="M144.48 466.5V438.2M143.58 438.2H145.38" stroke="#4a6396" stroke-width="0.9" fill="none"/>
<path d="M144.48 487.5V495M143.58 495H145.38" stroke="#4a6396" stroke-width="0.9" fill="none"/>
<rect x="142.78" y="466.5" width="3.4" height="21" rx="0.5" fill="url(#g0)" stroke="#4a6396" stroke-width="0.9"/>
<line x1="142.78" y1="470" x2="146.18" y2="470" stroke="#4a6396" stroke-width="0.8"/>
<path d="M149.84 478V498.8M148.94 498.8H150.74" stroke="#4f86c6" stroke-width="0.9" fill="none"/>
<rect x="148.14" y="464" width="3.4" height="14" rx="0.5" fill="url(#g1)" stroke="#4f86c6" stroke-width="0.9"/>
<line x1="148.14" y1="471" x2="151.54" y2="471" stroke="#4f86c6" stroke-width="0.8"/>
<path d="M155.2 466.5V458.8M154.3 458.8H156.1" stroke="#5e9cd7" stroke-width="0.9" fill="none"/>
<path d="M155.2 476.1V488.1M154.3 488.1H156.1" stroke="#5e9cd7" stroke-width="0.9" fill="none"/>
<rect x="153.5" y="466.5" width="3.4" height="9.6" rx="0.5" fill="url(#g2)" stroke="#5e9cd7" stroke-width="0.9"/>
<line x1="153.5" y1="471" x2="156.9" y2="471" stroke="#5e9cd7" stroke-width="0.8"/>
<path d="M160.56 467.3V457.5M159.66 457.5H161.46" stroke="#7cb3e2" stroke-width="0.9" fill="none"/>
<rect x="158.86" y="467.3" width="3.4" height="7.4" rx="0.5" fill="url(#g3)" stroke="#7cb3e2" stroke-width="0.9"/>
<line x1="158.86" y1="471" x2="162.26" y2="471" stroke="#7cb3e2" stroke-width="0.8"/>
<path d="M165.92 456.6V437.8M165.02 437.8H166.82" stroke="#9cc9ec" stroke-width="0.9" fill="none"/>
<path d="M165.92 479.4V497.6M165.02 497.6H166.82" stroke="#9cc9ec" stroke-width="0.9" fill="none"/>
<rect x="164.22" y="456.6" width="3.4" height="22.8" rx="0.5" fill="url(#g4)" stroke="#9cc9ec" stroke-width="0.9"/>
<line x1="164.22" y1="466" x2="167.62" y2="466" stroke="#9cc9ec" stroke-width="0.8"/>
<polyline points="144.48,468.9 149.84,468.6 155.2,470.6 160.56,470.9 165.92,468.6" fill="none" stroke="#202838" stroke-width="0.95" stroke-dasharray="1.6 0.8"/>
<path d="M178.08 432.9V427.2M177.18 427.2H178.98" stroke="#4a6396" stroke-width="0.9" fill="none"/>
<path d="M178.08 478.7V491M177.18 491H178.98" stroke="#4a6396" stroke-width="0.9" fill="none"/>
<rect x="176.38" y="432.9" width="3.4" height="45.8" rx="0.5" fill="url(#g0)" stroke="#4a6396" stroke-width="0.9"/>
<line x1="176.38" y1="452.2" x2="179.78" y2="452.2" stroke="#4a6396" stroke-width="0.8"/>
<path d="M183.44 438.2V433.2M182.54 433.2H184.34" stroke="#4f86c6" stroke-width="0.9" fill="none"/>
<path d="M183.44 476.3V488.6M182.54 488.6H184.34" stroke="#4f86c6" stroke-width="0.9" fill="none"/>
<rect x="181.74" y="438.2" width="3.4" height="38.1" rx="0.5" fill="url(#g1)" stroke="#4f86c6" stroke-width="0.9"/>
<line x1="181.74" y1="453.4" x2="185.14" y2="453.4" stroke="#4f86c6" stroke-width="0.8"/>
<path d="M188.8 445.2V431.6M187.9 431.6H189.7" stroke="#5e9cd7" stroke-width="0.9" fill="none"/>
<path d="M188.8 482V488.2M187.9 488.2H189.7" stroke="#5e9cd7" stroke-width="0.9" fill="none"/>
<rect x="187.1" y="445.2" width="3.4" height="36.8" rx="0.5" fill="url(#g2)" stroke="#5e9cd7" stroke-width="0.9"/>
<line x1="187.1" y1="467.6" x2="190.5" y2="467.6" stroke="#5e9cd7" stroke-width="0.8"/>
<path d="M194.16 451.7V446.3M193.26 446.3H195.06" stroke="#7cb3e2" stroke-width="0.9" fill="none"/>
<path d="M194.16 482V491M193.26 491H195.06" stroke="#7cb3e2" stroke-width="0.9" fill="none"/>
<rect x="192.46" y="451.7" width="3.4" height="30.3" rx="0.5" fill="url(#g3)" stroke="#7cb3e2" stroke-width="0.9"/>
<line x1="192.46" y1="466" x2="195.86" y2="466" stroke="#7cb3e2" stroke-width="0.8"/>
<path d="M199.52 447.6V437.5M198.62 437.5H200.42" stroke="#9cc9ec" stroke-width="0.9" fill="none"/>
<path d="M199.52 485.3V490.2M198.62 490.2H200.42" stroke="#9cc9ec" stroke-width="0.9" fill="none"/>
<rect x="197.82" y="447.6" width="3.4" height="37.7" rx="0.5" fill="url(#g4)" stroke="#9cc9ec" stroke-width="0.9"/>
<line x1="197.82" y1="467" x2="201.22" y2="467" stroke="#9cc9ec" stroke-width="0.8"/>
<polyline points="178.08,455.8 183.44,458.3 188.8,462.4 194.16,466 199.52,467" fill="none" stroke="#202838" stroke-width="0.95" stroke-dasharray="1.6 0.8"/>
<rect x="82.39" y="403.05" width="1.7" height="1.7" fill="#2b5fb0"/>
<rect x="87.75" y="400.95" width="1.7" height="1.7" fill="#3b7fcc"/>
<rect x="93.11" y="409.45" width="1.7" height="1.7" fill="#5a9fdc"/>
<rect x="98.47" y="410.65" width="1.7" height="1.7" fill="#86bfe6"/>
<rect x="98.47" y="426.25" width="1.7" height="1.7" fill="#86bfe6"/>
<rect x="143.63" y="426.35" width="1.7" height="1.7" fill="#1f3d7a"/>
<rect x="148.99" y="432.05" width="1.7" height="1.7" fill="#2b5fb0"/>
<rect x="148.99" y="441.85" width="1.7" height="1.7" fill="#2b5fb0"/>
<rect x="154.35" y="430.75" width="1.7" height="1.7" fill="#3b7fcc"/>
<rect x="154.35" y="498.45" width="1.7" height="1.7" fill="#3b7fcc"/>
<rect x="159.71" y="445.45" width="1.7" height="1.7" fill="#5a9fdc"/>
<rect x="159.71" y="490.15" width="1.7" height="1.7" fill="#5a9fdc"/>
<rect x="159.71" y="496.55" width="1.7" height="1.7" fill="#5a9fdc"/>
<rect x="155.4" y="400.8" width="43" height="16" fill="#fff" stroke="#3a3a3a" stroke-width="1"/>
<text x="176.9" y="411.7" font-size="9.4" font-weight="bold" fill="#1a1a1a" text-anchor="middle" textLength="31.4" lengthAdjust="spacingAndGlyphs">FAPI-74</text>
<line x1="238.3" y1="514.21" x2="409.6" y2="514.21" stroke="#f3f3f3" stroke-width="0.8"/>
<line x1="238.3" y1="506.21" x2="409.6" y2="506.21" stroke="#e7e7e7" stroke-width="0.8"/>
<line x1="238.3" y1="498.22" x2="409.6" y2="498.22" stroke="#f3f3f3" stroke-width="0.8"/>
<line x1="238.3" y1="490.23" x2="409.6" y2="490.23" stroke="#e7e7e7" stroke-width="0.8"/>
<line x1="238.3" y1="482.23" x2="409.6" y2="482.23" stroke="#f3f3f3" stroke-width="0.8"/>
<line x1="238.3" y1="474.24" x2="409.6" y2="474.24" stroke="#e7e7e7" stroke-width="0.8"/>
<line x1="238.3" y1="466.24" x2="409.6" y2="466.24" stroke="#f3f3f3" stroke-width="0.8"/>
<line x1="238.3" y1="458.25" x2="409.6" y2="458.25" stroke="#e7e7e7" stroke-width="0.8"/>
<line x1="238.3" y1="450.26" x2="409.6" y2="450.26" stroke="#f3f3f3" stroke-width="0.8"/>
<line x1="238.3" y1="442.26" x2="409.6" y2="442.26" stroke="#e7e7e7" stroke-width="0.8"/>
<line x1="238.3" y1="434.27" x2="409.6" y2="434.27" stroke="#f3f3f3" stroke-width="0.8"/>
<line x1="238.3" y1="426.28" x2="409.6" y2="426.28" stroke="#e7e7e7" stroke-width="0.8"/>
<line x1="238.3" y1="418.28" x2="409.6" y2="418.28" stroke="#f3f3f3" stroke-width="0.8"/>
<line x1="238.3" y1="410.29" x2="409.6" y2="410.29" stroke="#e7e7e7" stroke-width="0.8"/>
<line x1="238.3" y1="402.29" x2="409.6" y2="402.29" stroke="#f3f3f3" stroke-width="0.8"/>
<path d="M236 394.3H409.6V522.2" fill="none" stroke="#a3a3a3" stroke-width="1.3"/>
<line x1="238.3" y1="393.7" x2="238.3" y2="522.7" stroke="#6a6a6a" stroke-width="1"/>
<path d="M236 522.2H238.3M237.1 514.21H238.3M236 506.21H238.3M237.1 498.22H238.3M236 490.23H238.3M237.1 482.23H238.3M236 474.24H238.3M237.1 466.24H238.3M236 458.25H238.3M237.1 450.26H238.3M236 442.26H238.3M237.1 434.27H238.3M236 426.28H238.3M237.1 418.28H238.3M236 410.29H238.3M237.1 402.29H238.3M236 394.3H238.3" stroke="#6a6a6a" stroke-width="0.9" fill="none"/>
<g font-size="6.9" fill="#333" stroke="#333" stroke-width="0.12" text-anchor="end"><text x="234.5" y="524.4">0.0</text><text x="234.5" y="508.41">1.0</text><text x="234.5" y="492.43">2.0</text><text x="234.5" y="476.44">3.0</text><text x="234.5" y="460.45">4.0</text><text x="234.5" y="444.46">5.0</text><text x="234.5" y="428.48">6.0</text><text x="234.5" y="412.49">7.0</text><text x="234.5" y="396.5">8.0</text></g>
<text transform="translate(218.5 458.1) rotate(-90)" font-size="7.9" fill="#2a2a2a" stroke="#2a2a2a" stroke-width="0.2" text-anchor="middle" dy="2.7" textLength="58" lengthAdjust="spacingAndGlyphs">SUVmean [g/mL]</text>
<path d="M241.6 522.3H268.6M241.6 532.8H268.6M241.6 543.3H268.6" stroke="#808080" stroke-width="1.1" fill="none"/>
<path d="M247 522.3V532.8M252.4 522.3V532.8M257.8 522.3V532.8M263.2 522.3V532.8" stroke="#868686" stroke-width="0.9" fill="none"/>
<g font-size="7.2" fill="#1e1e1e" stroke="#1e1e1e" stroke-width="0.22" text-anchor="middle" transform="scale(0.8 1)"><text x="305.37" y="530.4">1</text><text x="312.12" y="530.4">2</text><text x="318.88" y="530.4">3</text><text x="325.62" y="530.4">4</text><text x="332.37" y="530.4">5</text></g>
<text x="255.1" y="540.5" font-size="6.6" fill="#222" stroke="#222" stroke-width="0.2" text-anchor="middle">PPa</text>
<path d="M275.9 522.3H302.9M275.9 532.8H302.9M275.9 543.3H302.9" stroke="#808080" stroke-width="1.1" fill="none"/>
<path d="M281.3 522.3V532.8M286.7 522.3V532.8M292.1 522.3V532.8M297.5 522.3V532.8" stroke="#868686" stroke-width="0.9" fill="none"/>
<g font-size="7.2" fill="#1e1e1e" stroke="#1e1e1e" stroke-width="0.22" text-anchor="middle" transform="scale(0.8 1)"><text x="348.25" y="530.4">1</text><text x="355" y="530.4">2</text><text x="361.75" y="530.4">3</text><text x="368.5" y="530.4">4</text><text x="375.25" y="530.4">5</text></g>
<text x="289.4" y="540.5" font-size="6.6" fill="#222" stroke="#222" stroke-width="0.2" text-anchor="middle">M</text>
<path d="M310.3 522.3H337.3M310.3 532.8H337.3M310.3 543.3H337.3" stroke="#808080" stroke-width="1.1" fill="none"/>
<path d="M315.7 522.3V532.8M321.1 522.3V532.8M326.5 522.3V532.8M331.9 522.3V532.8" stroke="#868686" stroke-width="0.9" fill="none"/>
<g font-size="7.2" fill="#1e1e1e" stroke="#1e1e1e" stroke-width="0.22" text-anchor="middle" transform="scale(0.8 1)"><text x="391.25" y="530.4">1</text><text x="398" y="530.4">2</text><text x="404.75" y="530.4">3</text><text x="411.5" y="530.4">4</text><text x="418.25" y="530.4">5</text></g>
<text x="323.8" y="540.5" font-size="6.6" fill="#222" stroke="#222" stroke-width="0.2" text-anchor="middle">MPa</text>
<path d="M344.7 522.3H371.7M344.7 532.8H371.7M344.7 543.3H371.7" stroke="#808080" stroke-width="1.1" fill="none"/>
<path d="M350.1 522.3V532.8M355.5 522.3V532.8M360.9 522.3V532.8M366.3 522.3V532.8" stroke="#868686" stroke-width="0.9" fill="none"/>
<g font-size="7.2" fill="#1e1e1e" stroke="#1e1e1e" stroke-width="0.22" text-anchor="middle" transform="scale(0.8 1)"><text x="434.25" y="530.4">1</text><text x="441" y="530.4">2</text><text x="447.75" y="530.4">3</text><text x="454.5" y="530.4">4</text><text x="461.25" y="530.4">5</text></g>
<text x="358.2" y="540.5" font-size="6.6" fill="#222" stroke="#222" stroke-width="0.2" text-anchor="middle">IR</text>
<path d="M379.1 522.3H406.1M379.1 532.8H406.1M379.1 543.3H406.1" stroke="#808080" stroke-width="1.1" fill="none"/>
<path d="M384.5 522.3V532.8M389.9 522.3V532.8M395.3 522.3V532.8M400.7 522.3V532.8" stroke="#868686" stroke-width="0.9" fill="none"/>
<g font-size="7.2" fill="#1e1e1e" stroke="#1e1e1e" stroke-width="0.22" text-anchor="middle" transform="scale(0.8 1)"><text x="477.25" y="530.4">1</text><text x="484" y="530.4">2</text><text x="490.75" y="530.4">3</text><text x="497.5" y="530.4">4</text><text x="504.25" y="530.4">5</text></g>
<text x="392.6" y="540.5" font-size="6.6" fill="#222" stroke="#222" stroke-width="0.2" text-anchor="middle">IPa</text>
<rect x="242.6" y="478.7" width="3.4" height="7.7" rx="0.5" fill="url(#g0)" stroke="#4a6396" stroke-width="0.9"/>
<line x1="242.6" y1="482.5" x2="246" y2="482.5" stroke="#4a6396" stroke-width="0.8"/>
<rect x="248" y="483.1" width="3.4" height="12.6" rx="0.5" fill="url(#g1)" stroke="#4f86c6" stroke-width="0.9"/>
<line x1="248" y1="489" x2="251.4" y2="489" stroke="#4f86c6" stroke-width="0.8"/>
<rect x="253.4" y="486.8" width="3.4" height="12.1" rx="0.5" fill="url(#g2)" stroke="#5e9cd7" stroke-width="0.9"/>
<line x1="253.4" y1="492" x2="256.8" y2="492" stroke="#5e9cd7" stroke-width="0.8"/>
<rect x="258.8" y="488.4" width="3.4" height="9.3" rx="0.5" fill="url(#g3)" stroke="#7cb3e2" stroke-width="0.9"/>
<line x1="258.8" y1="493" x2="262.2" y2="493" stroke="#7cb3e2" stroke-width="0.8"/>
<rect x="264.2" y="490.4" width="3.4" height="11.4" rx="0.5" fill="url(#g4)" stroke="#9cc9ec" stroke-width="0.9"/>
<line x1="264.2" y1="496" x2="267.6" y2="496" stroke="#9cc9ec" stroke-width="0.8"/>
<polyline points="244.3,482.3 249.7,486.4 255.1,490.8 260.5,492.2 265.9,494.5" fill="none" stroke="#202838" stroke-width="0.95" stroke-dasharray="1.6 0.8"/>
<path d="M278.6 450.3V409.8M277.7 409.8H279.5" stroke="#4a6396" stroke-width="0.9" fill="none"/>
<path d="M278.6 493.3V506.3M277.7 506.3H279.5" stroke="#4a6396" stroke-width="0.9" fill="none"/>
<rect x="276.9" y="450.3" width="3.4" height="43" rx="0.5" fill="url(#g0)" stroke="#4a6396" stroke-width="0.9"/>
<line x1="276.9" y1="483.1" x2="280.3" y2="483.1" stroke="#4a6396" stroke-width="0.8"/>
<path d="M284 455.5V410.4M283.1 410.4H284.9" stroke="#4f86c6" stroke-width="0.9" fill="none"/>
<path d="M284 491.2V506.3M283.1 506.3H284.9" stroke="#4f86c6" stroke-width="0.9" fill="none"/>
<rect x="282.3" y="455.5" width="3.4" height="35.7" rx="0.5" fill="url(#g1)" stroke="#4f86c6" stroke-width="0.9"/>
<line x1="282.3" y1="476.1" x2="285.7" y2="476.1" stroke="#4f86c6" stroke-width="0.8"/>
<path d="M289.4 460.1V439.2M288.5 439.2H290.3" stroke="#5e9cd7" stroke-width="0.9" fill="none"/>
<path d="M289.4 490.5V506.3M288.5 506.3H290.3" stroke="#5e9cd7" stroke-width="0.9" fill="none"/>
<rect x="287.7" y="460.1" width="3.4" height="30.4" rx="0.5" fill="url(#g2)" stroke="#5e9cd7" stroke-width="0.9"/>
<line x1="287.7" y1="481.7" x2="291.1" y2="481.7" stroke="#5e9cd7" stroke-width="0.8"/>
<path d="M294.8 464.9V437.6M293.9 437.6H295.7" stroke="#7cb3e2" stroke-width="0.9" fill="none"/>
<path d="M294.8 489.8V510.8M293.9 510.8H295.7" stroke="#7cb3e2" stroke-width="0.9" fill="none"/>
<rect x="293.1" y="464.9" width="3.4" height="24.9" rx="0.5" fill="url(#g3)" stroke="#7cb3e2" stroke-width="0.9"/>
<line x1="293.1" y1="482.5" x2="296.5" y2="482.5" stroke="#7cb3e2" stroke-width="0.8"/>
<path d="M300.2 464.3V456.5M299.3 456.5H301.1" stroke="#9cc9ec" stroke-width="0.9" fill="none"/>
<path d="M300.2 486.3V498.2M299.3 498.2H301.1" stroke="#9cc9ec" stroke-width="0.9" fill="none"/>
<rect x="298.5" y="464.3" width="3.4" height="22" rx="0.5" fill="url(#g4)" stroke="#9cc9ec" stroke-width="0.9"/>
<line x1="298.5" y1="479.3" x2="301.9" y2="479.3" stroke="#9cc9ec" stroke-width="0.8"/>
<polyline points="278.6,473.7 284,473.3 289.4,474.4 294.8,475.1 300.2,472.3" fill="none" stroke="#202838" stroke-width="0.95" stroke-dasharray="1.6 0.8"/>
<path d="M313 423.7V409.8M312.1 409.8H313.9" stroke="#4a6396" stroke-width="0.9" fill="none"/>
<path d="M313 462.2V474.5M312.1 474.5H313.9" stroke="#4a6396" stroke-width="0.9" fill="none"/>
<rect x="311.3" y="423.7" width="3.4" height="38.5" rx="0.5" fill="url(#g0)" stroke="#4a6396" stroke-width="0.9"/>
<line x1="311.3" y1="443.9" x2="314.7" y2="443.9" stroke="#4a6396" stroke-width="0.8"/>
<path d="M318.4 424.2V410.1M317.5 410.1H319.3" stroke="#4f86c6" stroke-width="0.9" fill="none"/>
<path d="M318.4 467.4V474.5M317.5 474.5H319.3" stroke="#4f86c6" stroke-width="0.9" fill="none"/>
<rect x="316.7" y="424.2" width="3.4" height="43.2" rx="0.5" fill="url(#g1)" stroke="#4f86c6" stroke-width="0.9"/>
<line x1="316.7" y1="448.8" x2="320.1" y2="448.8" stroke="#4f86c6" stroke-width="0.8"/>
<path d="M323.8 422.6V406.5M322.9 406.5H324.7" stroke="#5e9cd7" stroke-width="0.9" fill="none"/>
<path d="M323.8 474.5V477.7M322.9 477.7H324.7" stroke="#5e9cd7" stroke-width="0.9" fill="none"/>
<rect x="322.1" y="422.6" width="3.4" height="51.9" rx="0.5" fill="url(#g2)" stroke="#5e9cd7" stroke-width="0.9"/>
<line x1="322.1" y1="454.3" x2="325.5" y2="454.3" stroke="#5e9cd7" stroke-width="0.8"/>
<path d="M329.2 426.2V415.5M328.3 415.5H330.1" stroke="#7cb3e2" stroke-width="0.9" fill="none"/>
<path d="M329.2 475.3V480.5M328.3 480.5H330.1" stroke="#7cb3e2" stroke-width="0.9" fill="none"/>
<rect x="327.5" y="426.2" width="3.4" height="49.1" rx="0.5" fill="url(#g3)" stroke="#7cb3e2" stroke-width="0.9"/>
<line x1="327.5" y1="453.7" x2="330.9" y2="453.7" stroke="#7cb3e2" stroke-width="0.8"/>
<path d="M334.6 419.3V413.4M333.7 413.4H335.5" stroke="#9cc9ec" stroke-width="0.9" fill="none"/>
<path d="M334.6 476.1V480.2M333.7 480.2H335.5" stroke="#9cc9ec" stroke-width="0.9" fill="none"/>
<rect x="332.9" y="419.3" width="3.4" height="56.8" rx="0.5" fill="url(#g4)" stroke="#9cc9ec" stroke-width="0.9"/>
<line x1="332.9" y1="449" x2="336.3" y2="449" stroke="#9cc9ec" stroke-width="0.8"/>
<polyline points="313,443.9 318.4,447.1 323.8,449.9 329.2,451.6 334.6,448.8" fill="none" stroke="#202838" stroke-width="0.95" stroke-dasharray="1.6 0.8"/>
<path d="M347.4 462.3V457.7M346.5 457.7H348.3" stroke="#4a6396" stroke-width="0.9" fill="none"/>
<path d="M347.4 486.9V496.7M346.5 496.7H348.3" stroke="#4a6396" stroke-width="0.9" fill="none"/>
<rect x="345.7" y="462.3" width="3.4" height="24.6" rx="0.5" fill="url(#g0)" stroke="#4a6396" stroke-width="0.9"/>
<line x1="345.7" y1="472.5" x2="349.1" y2="472.5" stroke="#4a6396" stroke-width="0.8"/>
<path d="M352.8 483.1V497M351.9 497H353.7" stroke="#4f86c6" stroke-width="0.9" fill="none"/>
<rect x="351.1" y="458.6" width="3.4" height="24.5" rx="0.5" fill="url(#g1)" stroke="#4f86c6" stroke-width="0.9"/>
<line x1="351.1" y1="474.1" x2="354.5" y2="474.1" stroke="#4f86c6" stroke-width="0.8"/>
<path d="M358.2 467.6V462.3M357.3 462.3H359.1" stroke="#5e9cd7" stroke-width="0.9" fill="none"/>
<path d="M358.2 477V488M357.3 488H359.1" stroke="#5e9cd7" stroke-width="0.9" fill="none"/>
<rect x="356.5" y="467.6" width="3.4" height="9.4" rx="0.5" fill="url(#g2)" stroke="#5e9cd7" stroke-width="0.9"/>
<line x1="356.5" y1="472" x2="359.9" y2="472" stroke="#5e9cd7" stroke-width="0.8"/>
<path d="M363.6 474.9V488.8M362.7 488.8H364.5" stroke="#7cb3e2" stroke-width="0.9" fill="none"/>
<rect x="361.9" y="464.3" width="3.4" height="10.6" rx="0.5" fill="url(#g3)" stroke="#7cb3e2" stroke-width="0.9"/>
<line x1="361.9" y1="470" x2="365.3" y2="470" stroke="#7cb3e2" stroke-width="0.8"/>
<path d="M369 459.4V456.1M368.1 456.1H369.9" stroke="#9cc9ec" stroke-width="0.9" fill="none"/>
<path d="M369 472.5V487.2M368.1 487.2H369.9" stroke="#9cc9ec" stroke-width="0.9" fill="none"/>
<rect x="367.3" y="459.4" width="3.4" height="13.1" rx="0.5" fill="url(#g4)" stroke="#9cc9ec" stroke-width="0.9"/>
<line x1="367.3" y1="466" x2="370.7" y2="466" stroke="#9cc9ec" stroke-width="0.8"/>
<polyline points="347.4,469.5 352.8,470 358.2,470.8 363.6,471.6 369,467.9" fill="none" stroke="#202838" stroke-width="0.95" stroke-dasharray="1.6 0.8"/>
<path d="M381.8 438.7V419.6M380.9 419.6H382.7" stroke="#4a6396" stroke-width="0.9" fill="none"/>
<path d="M381.8 474.7V485.7M380.9 485.7H382.7" stroke="#4a6396" stroke-width="0.9" fill="none"/>
<rect x="380.1" y="438.7" width="3.4" height="36" rx="0.5" fill="url(#g0)" stroke="#4a6396" stroke-width="0.9"/>
<line x1="380.1" y1="460" x2="383.5" y2="460" stroke="#4a6396" stroke-width="0.8"/>
<path d="M387.2 439.5V420.7M386.3 420.7H388.1" stroke="#4f86c6" stroke-width="0.9" fill="none"/>
<path d="M387.2 472.3V485.4M386.3 485.4H388.1" stroke="#4f86c6" stroke-width="0.9" fill="none"/>
<rect x="385.5" y="439.5" width="3.4" height="32.8" rx="0.5" fill="url(#g1)" stroke="#4f86c6" stroke-width="0.9"/>
<line x1="385.5" y1="459.2" x2="388.9" y2="459.2" stroke="#4f86c6" stroke-width="0.8"/>
<path d="M392.6 446.1V430.5M391.7 430.5H393.5" stroke="#5e9cd7" stroke-width="0.9" fill="none"/>
<path d="M392.6 479.6V487.8M391.7 487.8H393.5" stroke="#5e9cd7" stroke-width="0.9" fill="none"/>
<rect x="390.9" y="446.1" width="3.4" height="33.5" rx="0.5" fill="url(#g2)" stroke="#5e9cd7" stroke-width="0.9"/>
<line x1="390.9" y1="467" x2="394.3" y2="467" stroke="#5e9cd7" stroke-width="0.8"/>
<path d="M398 454.3V442.5M397.1 442.5H398.9" stroke="#7cb3e2" stroke-width="0.9" fill="none"/>
<path d="M398 481.3V488.6M397.1 488.6H398.9" stroke="#7cb3e2" stroke-width="0.9" fill="none"/>
<rect x="396.3" y="454.3" width="3.4" height="27" rx="0.5" fill="url(#g3)" stroke="#7cb3e2" stroke-width="0.9"/>
<line x1="396.3" y1="469.3" x2="399.7" y2="469.3" stroke="#7cb3e2" stroke-width="0.8"/>
<path d="M403.4 447.4V434.3M402.5 434.3H404.3" stroke="#9cc9ec" stroke-width="0.9" fill="none"/>
<path d="M403.4 478.8V487M402.5 487H404.3" stroke="#9cc9ec" stroke-width="0.9" fill="none"/>
<rect x="401.7" y="447.4" width="3.4" height="31.4" rx="0.5" fill="url(#g4)" stroke="#9cc9ec" stroke-width="0.9"/>
<line x1="401.7" y1="466.6" x2="405.1" y2="466.6" stroke="#9cc9ec" stroke-width="0.8"/>
<polyline points="381.8,456.2 387.2,457.2 392.6,462.5 398,467 403.4,463.8" fill="none" stroke="#202838" stroke-width="0.95" stroke-dasharray="1.6 0.8"/>
<rect x="288.55" y="405.45" width="1.7" height="1.7" fill="#3b7fcc"/>
<rect x="293.95" y="414.65" width="1.7" height="1.7" fill="#5a9fdc"/>
<rect x="299.35" y="412.75" width="1.7" height="1.7" fill="#86bfe6"/>
<rect x="299.35" y="424.75" width="1.7" height="1.7" fill="#86bfe6"/>
<rect x="346.55" y="418.55" width="1.7" height="1.7" fill="#1f3d7a"/>
<rect x="351.95" y="419.95" width="1.7" height="1.7" fill="#2b5fb0"/>
<rect x="357.35" y="429.65" width="1.7" height="1.7" fill="#3b7fcc"/>
<rect x="368.15" y="433.05" width="1.7" height="1.7" fill="#86bfe6"/>
<rect x="362.75" y="441.65" width="1.7" height="1.7" fill="#5a9fdc"/>
<rect x="357.35" y="498.15" width="1.7" height="1.7" fill="#3b7fcc"/>
<rect x="362.75" y="499.15" width="1.7" height="1.7" fill="#5a9fdc"/>
<rect x="368.15" y="495.85" width="1.7" height="1.7" fill="#86bfe6"/>
<rect x="363.4" y="399" width="43.2" height="15.8" fill="#fff" stroke="#3a3a3a" stroke-width="1"/>
<text x="385" y="409.8" font-size="9.4" font-weight="bold" fill="#1a1a1a" text-anchor="middle" textLength="31.4" lengthAdjust="spacingAndGlyphs">FAPI-74</text>
<text x="19.5" y="14.6" font-size="12.5" font-weight="bold" fill="#000">A</text><text x="20.3" y="203.1" font-size="12.5" font-weight="bold" fill="#000">B</text><text x="19.8" y="383.3" font-size="12.5" font-weight="bold" fill="#000">C</text>
</svg>
</body></html>
